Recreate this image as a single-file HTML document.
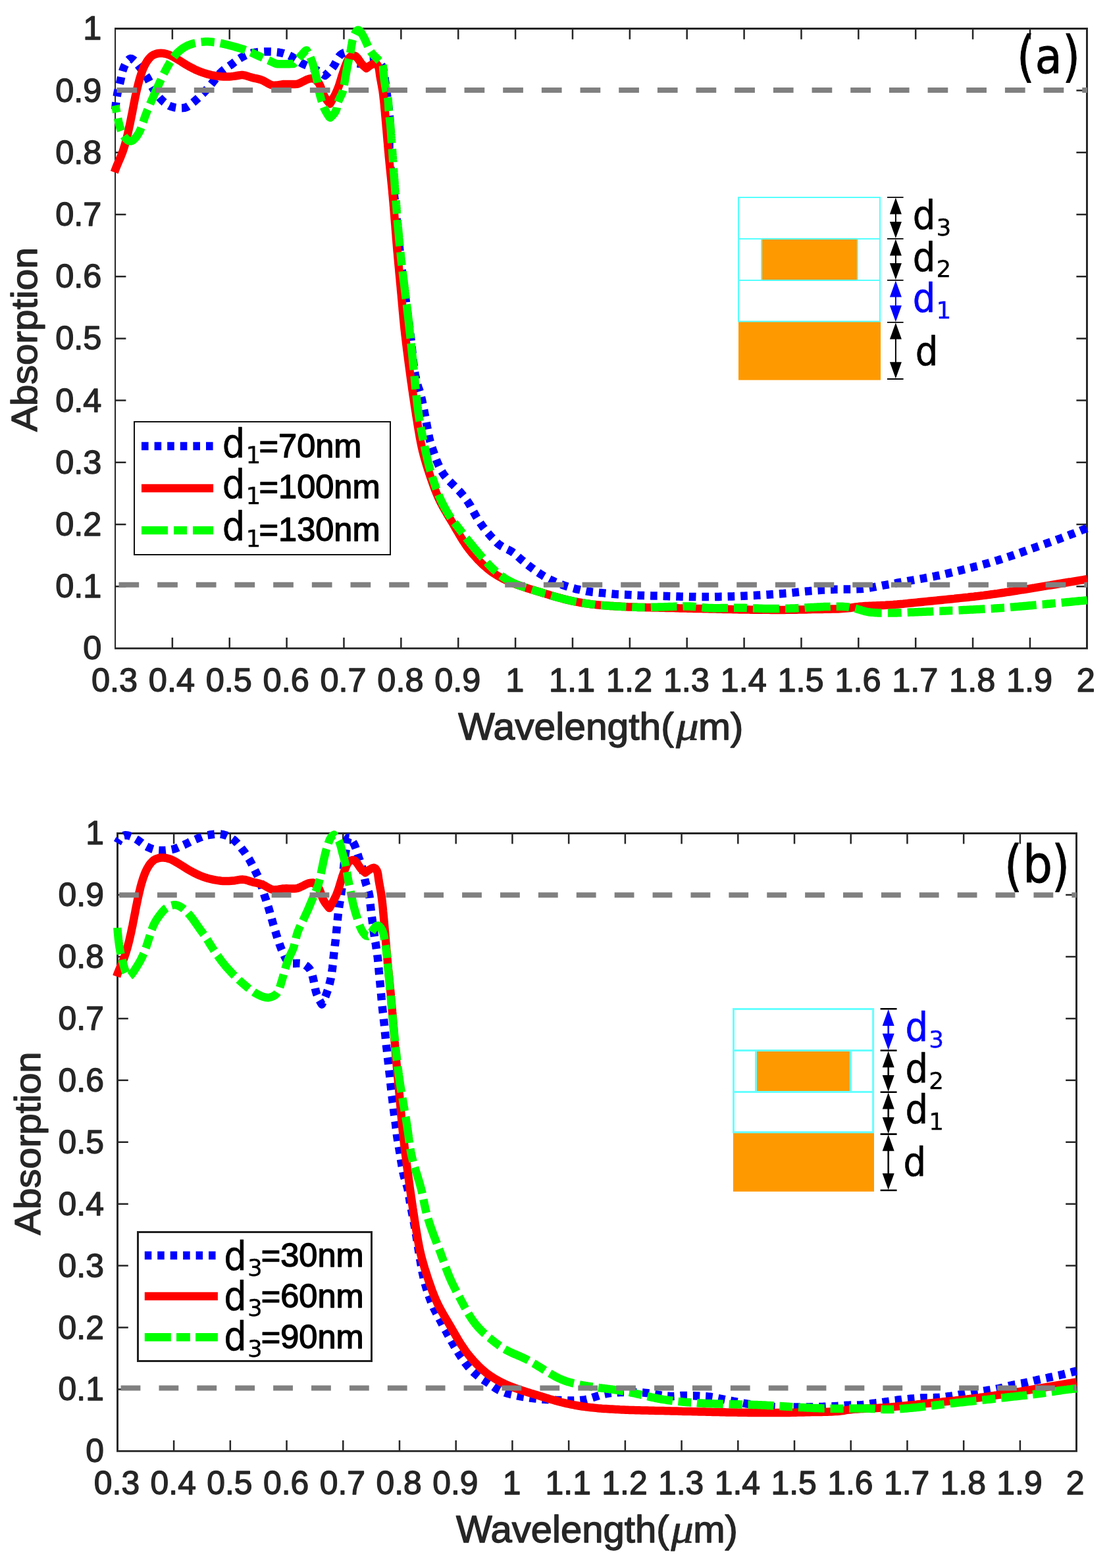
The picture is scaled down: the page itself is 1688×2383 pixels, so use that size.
<!DOCTYPE html>
<html lang="en"><head><meta charset="utf-8"><title>Absorption spectra</title>
<style>html,body{margin:0;padding:0;background:#fff;overflow:hidden}svg{display:block}</style></head><body>
<svg width="1688" height="2383" viewBox="0 0 1688 2383">
<rect width="1688" height="2383" fill="#fff"/>
<g id="plot-a">
<path d="M261.87 985.4v-16.4M261.87 43.4v16.4M348.74 985.4v-16.4M348.74 43.4v16.4M435.61 985.4v-16.4M435.61 43.4v16.4M522.48 985.4v-16.4M522.48 43.4v16.4M609.35 985.4v-16.4M609.35 43.4v16.4M696.22 985.4v-16.4M696.22 43.4v16.4M783.09 985.4v-16.4M783.09 43.4v16.4M869.96 985.4v-16.4M869.96 43.4v16.4M956.84 985.4v-16.4M956.84 43.4v16.4M1043.71 985.4v-16.4M1043.71 43.4v16.4M1130.58 985.4v-16.4M1130.58 43.4v16.4M1217.45 985.4v-16.4M1217.45 43.4v16.4M1304.32 985.4v-16.4M1304.32 43.4v16.4M1391.19 985.4v-16.4M1391.19 43.4v16.4M1478.06 985.4v-16.4M1478.06 43.4v16.4M1564.93 985.4v-16.4M1564.93 43.4v16.4M175 891.2h16.4M1651.8 891.2h-16.4M175 797h16.4M1651.8 797h-16.4M175 702.8h16.4M1651.8 702.8h-16.4M175 608.6h16.4M1651.8 608.6h-16.4M175 514.4h16.4M1651.8 514.4h-16.4M175 420.2h16.4M1651.8 420.2h-16.4M175 326h16.4M1651.8 326h-16.4M175 231.8h16.4M1651.8 231.8h-16.4M175 137.6h16.4M1651.8 137.6h-16.4" stroke="#262626" stroke-width="2.5" fill="none"/>
<path d="M174.04 42H1652.95V44.96H174.04ZM174.04 984H1652.95V986.8H174.04ZM174.04 42H176.07V986.8H174.04ZM1650 42H1652.95V986.8H1650Z" fill="#262626"/>
<g font-family='"Liberation Sans", Arial, Helvetica, sans-serif' font-size="50.5" fill="#262626" stroke="#262626" stroke-width="1.4" stroke-linejoin="round">
<g text-anchor="middle">
<text x="174.1" y="1051.4">0.3</text>
<text x="260.97" y="1051.4">0.4</text>
<text x="347.84" y="1051.4">0.5</text>
<text x="434.71" y="1051.4">0.6</text>
<text x="521.58" y="1051.4">0.7</text>
<text x="608.45" y="1051.4">0.8</text>
<text x="695.32" y="1051.4">0.9</text>
<text x="782.19" y="1051.4">1</text>
<text x="869.06" y="1051.4">1.1</text>
<text x="955.94" y="1051.4">1.2</text>
<text x="1042.81" y="1051.4">1.3</text>
<text x="1129.68" y="1051.4">1.4</text>
<text x="1216.55" y="1051.4">1.5</text>
<text x="1303.42" y="1051.4">1.6</text>
<text x="1390.29" y="1051.4">1.7</text>
<text x="1477.16" y="1051.4">1.8</text>
<text x="1564.03" y="1051.4">1.9</text>
<text x="1649.9" y="1051.4">2</text>
</g><g text-anchor="end">
<text x="154.4" y="1002.4">0</text>
<text x="154.4" y="908.2">0.1</text>
<text x="154.4" y="814">0.2</text>
<text x="154.4" y="719.8">0.3</text>
<text x="154.4" y="625.6">0.4</text>
<text x="154.4" y="531.4">0.5</text>
<text x="154.4" y="437.2">0.6</text>
<text x="154.4" y="343">0.7</text>
<text x="154.4" y="248.8">0.8</text>
<text x="154.4" y="154.6">0.9</text>
<text x="154.4" y="60.4">1</text>
</g></g>
<polyline points="175.2,166.0 175.5,163.0 175.8,160.0 176.1,157.0 176.5,154.0 176.9,151.0 177.4,148.0 177.9,145.1 178.4,142.1 179.0,139.1 179.7,136.2 180.4,133.2 181.2,130.3 181.9,127.4 182.6,124.5 183.3,121.6 183.9,118.7 184.4,115.8 185.1,112.8 185.7,109.9 186.6,106.9 187.6,104.0 188.8,100.9 190.4,97.6 192.2,94.5 194.2,91.9 196.2,90.0 198.3,89.1 200.4,89.5 202.7,90.9 205.0,93.0 207.3,95.6 209.5,98.4 211.6,101.1 213.6,103.6 215.5,106.0 217.3,108.4 219.0,110.9 220.7,113.3 222.3,115.7 223.9,118.2 225.3,120.8 226.7,123.5 228.1,126.2 229.4,128.9 230.8,131.6 232.3,134.2 233.9,136.8 235.6,139.4 237.3,141.9 239.1,144.4 240.9,146.8 242.9,149.0 245.0,151.2 247.1,153.3 249.4,155.4 251.8,157.3 254.3,159.1 257.0,160.7 259.7,161.8 262.5,162.6 265.5,163.3 268.5,163.8 271.6,164.1 274.7,164.2 277.7,164.1 280.6,163.8 283.3,162.9 285.9,161.5 288.5,159.8 290.9,157.8 293.4,155.7 295.7,153.7 298.0,151.7 300.3,149.7 302.5,147.7 304.7,145.6 306.8,143.5 309.0,141.4 311.1,139.2 313.1,137.0 315.1,134.8 317.1,132.5 319.1,130.2 321.0,127.9 322.9,125.6 324.8,123.2 326.7,120.8 328.5,118.4 330.4,116.0 332.3,113.6 334.3,111.4 336.4,109.3 338.6,107.3 341.0,105.5 343.4,103.7 345.9,101.9 348.4,100.2 350.9,98.5 353.3,96.7 355.8,94.8 358.2,93.0 360.6,91.2 363.1,89.5 365.6,87.9 368.2,86.5 370.9,85.1 373.7,83.8 376.5,82.6 379.4,81.6 382.3,80.7 385.2,80.1 388.2,79.6 391.1,79.2 394.1,78.9 397.2,78.6 400.2,78.5 403.2,78.4 406.2,78.4 409.3,78.5 412.3,78.6 415.3,78.8 418.3,79.1 421.3,79.4 424.3,79.8 427.2,80.3 430.2,81.0 433.1,81.9 436.0,83.0 438.8,84.1 441.5,85.4 444.1,86.7 446.7,88.3 449.2,90.0 451.7,91.7 454.2,93.5 456.8,95.1 459.4,96.6 462.1,97.9 464.8,99.1 467.6,100.3 470.4,101.5 473.2,102.6 475.9,103.9 478.6,105.3 481.2,106.7 483.8,108.2 486.4,109.8 489.0,111.4 491.5,113.1 494.0,114.8 496.2,112.7 498.4,110.6 500.5,108.4 502.5,106.2 504.5,103.9 506.3,101.5 507.9,99.1 509.4,96.4 510.8,93.7 512.2,90.9 513.6,88.2 515.3,85.7 517.2,83.5 519.7,81.7 522.6,80.2 525.6,79.3 528.1,79.3 530.2,80.6 532.1,83.0 533.7,86.0 535.3,89.2 537.1,92.2 539.0,94.7 541.3,96.1 544.1,96.6 547.2,96.8 550.3,96.6 553.2,95.9 556.0,94.6 558.8,93.4 561.7,92.7 564.7,92.6 567.7,92.8 570.7,93.2 573.6,94.1 576.3,95.6 578.5,97.7 580.1,99.9 581.3,102.4 582.3,105.2 583.0,108.1 583.6,111.2 584.1,114.4 584.5,117.6 584.8,120.7 585.2,123.8 585.6,126.8 586.0,129.9 586.4,132.9 586.8,135.8 587.2,138.8 587.6,141.8 588.0,144.7 588.4,147.7 588.8,150.6 589.2,153.6 589.6,156.5 589.9,159.5 590.3,162.5 590.7,165.4 591.0,168.4 591.4,171.4 591.7,174.4 592.0,177.4 592.2,180.4 592.4,183.4 592.5,186.4 592.6,189.4 592.6,192.4 592.5,195.4 592.4,198.4 592.3,201.4 592.1,204.4 592.0,207.4 591.8,210.5 591.7,213.5 591.5,216.5 591.4,219.4 591.4,222.4 591.4,225.4 591.4,228.4 591.5,231.4 591.7,234.4 591.8,237.4 592.0,240.4 592.3,243.4 592.5,246.4 592.8,249.4 593.1,252.4 593.5,255.3 593.8,258.3 594.2,261.3 594.6,264.3 595.0,267.3 595.4,270.3 595.8,273.3 596.2,276.3 596.6,279.2 597.0,282.2 597.4,285.2 597.8,288.2 598.2,291.2 598.6,294.2 599.0,297.2 599.3,300.2 599.7,303.1 600.0,306.1 600.3,309.1 600.7,312.1 601.0,315.1 601.3,318.1 601.6,321.1 601.9,324.1 602.2,327.1 602.5,330.0 602.8,333.0 603.1,336.0 603.3,339.0 603.6,342.0 603.9,345.0 604.2,348.0 604.5,351.0 604.7,354.0 605.0,357.0 605.3,359.9 605.6,362.9 605.9,365.9 606.2,368.9 606.5,371.9 606.8,374.9 607.1,377.9 607.4,380.9 607.7,383.9 608.0,386.8 608.3,389.8 608.6,392.8 609.0,395.8 609.3,398.8 609.6,401.8 610.0,404.8 610.3,407.7 610.7,410.7 611.0,413.7 611.4,416.7 611.7,419.7 612.1,422.7 612.5,425.6 612.9,428.6 613.2,431.6 613.6,434.6 614.0,437.6 614.4,440.5 614.8,443.5 615.2,446.5 615.6,449.5 616.0,452.5 616.4,455.4 616.8,458.4 617.2,461.4 617.6,464.3 618.0,467.3 618.4,470.3 618.8,473.3 619.2,476.2 619.7,479.2 620.1,482.2 620.5,485.2 620.9,488.1 621.3,491.1 621.7,494.1 622.1,497.1 622.5,500.1 622.8,503.0 623.2,506.0 623.6,509.0 624.0,512.0 624.3,515.0 624.6,518.0 625.0,521.0 625.3,524.0 625.6,527.0 625.9,530.0 626.2,533.0 626.5,536.1 626.8,539.1 627.1,542.1 627.4,545.1 627.7,548.1 628.1,551.1 628.4,554.1 628.8,557.1 629.3,560.1 629.7,563.0 630.2,566.0 630.7,568.9 631.3,571.9 631.9,574.8 632.5,577.7 633.2,580.6 634.0,583.5 634.8,586.4 635.7,589.2 636.8,592.0 637.7,594.9 638.6,597.7 639.3,600.6 640.0,603.6 640.7,606.5 641.4,609.4 642.0,612.4 642.6,615.3 643.2,618.3 643.8,621.2 644.4,624.2 644.9,627.1 645.5,630.1 646.1,633.0 646.6,636.0 647.2,638.9 647.8,641.9 648.3,644.8 648.8,647.8 649.4,650.7 649.9,653.7 650.5,656.6 651.0,659.6 651.6,662.5 652.2,665.5 652.9,668.4 653.7,671.3 654.5,674.2 655.4,677.1 656.3,679.9 657.3,682.8 658.3,685.6 659.3,688.4 660.3,691.3 661.3,694.1 662.3,696.9 663.4,699.8 664.5,702.5 665.7,705.3 666.9,708.0 668.2,710.8 669.6,713.5 671.0,716.1 672.6,718.7 674.2,721.2 676.0,723.6 677.9,725.9 679.9,728.1 681.9,730.3 684.1,732.5 686.2,734.6 688.3,736.7 690.5,738.9 692.6,741.0 694.7,743.1 696.8,745.3 698.9,747.5 700.9,749.7 702.8,752.0 704.7,754.3 706.6,756.7 708.4,759.1 710.1,761.5 711.8,764.0 713.4,766.6 715.0,769.1 716.4,771.8 717.8,774.4 719.2,777.1 720.6,779.7 722.1,782.4 723.5,785.0 725.1,787.6 726.7,790.1 728.3,792.7 730.0,795.2 731.7,797.6 733.4,800.1 735.3,802.5 737.1,804.8 739.0,807.2 740.9,809.5 742.9,811.8 744.8,814.0 746.8,816.3 748.9,818.5 750.9,820.7 753.1,822.9 755.2,825.0 757.5,827.0 759.9,828.8 762.3,830.4 764.9,831.9 767.6,833.3 770.3,834.6 773.1,835.9 775.7,837.3 778.3,838.9 780.7,840.6 783.0,842.5 785.3,844.4 787.6,846.5 789.8,848.5 792.1,850.5 794.4,852.4 796.7,854.3 799.0,856.2 801.4,858.1 803.7,860.0 806.1,861.8 808.5,863.6 810.9,865.4 813.4,867.2 815.8,868.9 818.3,870.6 820.8,872.2 823.4,873.8 825.9,875.4 828.5,876.9 831.2,878.3 833.8,879.7 836.5,881.1 839.2,882.4 841.9,883.7 844.7,884.9 847.4,886.1 850.2,887.2 853.0,888.3 855.8,889.4 858.7,890.4 861.5,891.3 864.4,892.2 867.3,893.0 870.2,893.8 873.1,894.6 876.0,895.3 878.9,895.9 881.9,896.6 884.8,897.2 887.8,897.8 890.7,898.4 893.7,898.9 896.7,899.3 899.6,899.7 902.6,900.0 905.6,900.3 908.6,900.6 911.6,900.9 914.6,901.1 917.6,901.4 920.6,901.7 923.6,902.0 926.6,902.3 929.5,902.6 932.5,902.8 935.5,903.1 938.5,903.3 941.5,903.4 944.5,903.6 947.5,903.7 950.5,903.8 953.5,903.9 956.5,904.1 959.5,904.2 962.5,904.4 965.5,904.6 968.5,904.7 971.5,904.9 974.5,905.0 977.5,905.1 980.5,905.2 983.5,905.3 986.5,905.3 989.6,905.4 992.6,905.5 995.6,905.5 998.6,905.6 1001.6,905.6 1004.6,905.7 1007.6,905.8 1010.6,905.9 1013.6,906.0 1016.6,906.2 1019.6,906.3 1022.6,906.4 1025.6,906.4 1028.6,906.5 1031.6,906.6 1034.6,906.7 1037.6,906.7 1040.6,906.8 1043.6,906.9 1046.6,906.9 1049.6,907.0 1052.6,907.0 1055.6,907.0 1058.6,907.1 1061.6,907.1 1064.6,907.1 1067.6,907.1 1070.6,907.1 1073.6,907.1 1076.7,907.1 1079.7,907.1 1082.7,907.0 1085.7,907.0 1088.7,906.9 1091.7,906.9 1094.7,906.8 1097.7,906.8 1100.7,906.7 1103.7,906.7 1106.7,906.6 1109.7,906.5 1112.7,906.4 1115.7,906.3 1118.7,906.2 1121.7,906.1 1124.7,906.0 1127.7,905.8 1130.7,905.7 1133.7,905.5 1136.7,905.4 1139.7,905.2 1142.7,905.0 1145.7,904.9 1148.7,904.7 1151.7,904.5 1154.7,904.4 1157.7,904.2 1160.7,904.0 1163.7,903.9 1166.7,903.7 1169.7,903.5 1172.7,903.3 1175.7,903.1 1178.7,902.9 1181.7,902.7 1184.7,902.5 1187.7,902.2 1190.7,902.0 1193.7,901.7 1196.7,901.5 1199.7,901.2 1202.6,900.9 1205.6,900.6 1208.6,900.3 1211.6,900.0 1214.6,899.7 1217.6,899.4 1220.6,899.1 1223.6,898.8 1226.6,898.5 1229.6,898.3 1232.5,898.0 1235.5,897.8 1238.5,897.5 1241.5,897.3 1244.5,897.1 1247.5,896.8 1250.5,896.6 1253.5,896.5 1256.5,896.3 1259.5,896.1 1262.5,896.0 1265.5,895.9 1268.5,895.8 1271.5,895.7 1274.5,895.7 1277.5,895.6 1280.6,895.6 1283.6,895.6 1286.6,895.6 1289.6,895.5 1292.6,895.5 1295.6,895.4 1298.6,895.4 1301.6,895.3 1304.6,895.1 1307.6,895.0 1310.6,894.8 1313.5,894.5 1316.5,894.1 1319.5,893.7 1322.5,893.2 1325.4,892.7 1328.4,892.2 1331.3,891.6 1334.3,891.1 1337.3,890.5 1340.2,889.9 1343.2,889.4 1346.1,888.9 1349.1,888.3 1352.1,887.8 1355.0,887.3 1358.0,886.8 1360.9,886.3 1363.9,885.7 1366.9,885.2 1369.8,884.7 1372.8,884.2 1375.7,883.7 1378.7,883.2 1381.7,882.6 1384.6,882.1 1387.6,881.6 1390.5,881.1 1393.5,880.6 1396.5,880.1 1399.4,879.6 1402.4,879.1 1405.3,878.5 1408.3,878.0 1411.3,877.5 1414.2,876.9 1417.2,876.4 1420.1,875.8 1423.0,875.2 1426.0,874.6 1428.9,874.0 1431.9,873.3 1434.8,872.7 1437.7,872.0 1440.6,871.3 1443.6,870.6 1446.5,869.9 1449.4,869.2 1452.3,868.5 1455.3,867.8 1458.2,867.1 1461.1,866.4 1464.0,865.6 1466.9,864.9 1469.8,864.2 1472.7,863.4 1475.7,862.7 1478.6,861.9 1481.5,861.2 1484.4,860.4 1487.3,859.7 1490.2,858.9 1493.1,858.1 1496.0,857.3 1498.9,856.5 1501.8,855.7 1504.6,854.8 1507.5,854.0 1510.4,853.1 1513.3,852.2 1516.2,851.4 1519.0,850.5 1521.9,849.6 1524.8,848.6 1527.6,847.7 1530.5,846.8 1533.3,845.9 1536.2,844.9 1539.0,844.0 1541.9,843.0 1544.7,842.0 1547.5,841.0 1550.4,840.0 1553.2,839.0 1556.0,838.0 1558.9,837.0 1561.7,836.0 1564.5,834.9 1567.3,833.9 1570.2,832.9 1573.0,831.9 1575.8,830.9 1578.7,829.9 1581.5,828.9 1584.3,827.9 1587.2,826.9 1590.0,825.9 1592.8,824.9 1595.7,823.9 1598.5,822.9 1601.3,821.9 1604.1,820.9 1607.0,819.8 1609.8,818.8 1612.6,817.8 1615.4,816.7 1618.2,815.6 1621.0,814.6 1623.8,813.5 1626.6,812.4 1629.4,811.3 1632.2,810.3 1635.0,809.2 1637.8,808.1 1640.6,807.0 1643.4,805.8 1646.2,804.7 1649.0,803.6 1651.8,802.5" fill="none" stroke="#0000ff" stroke-width="12.5" stroke-linejoin="round" stroke-dasharray="10.6 9" stroke-dashoffset="0.00"/>
<polyline points="173.8,261.9 174.8,259.1 175.9,256.2 177.0,253.4 178.1,250.6 179.3,247.9 180.5,245.1 181.7,242.3 182.9,239.6 184.0,236.8 185.1,234.0 186.2,231.2 187.2,228.3 188.1,225.5 189.0,222.6 189.9,219.7 190.7,216.8 191.5,213.9 192.2,211.0 193.0,208.1 193.7,205.1 194.4,202.2 195.0,199.2 195.7,196.3 196.3,193.3 197.0,190.4 197.6,187.4 198.2,184.5 198.8,181.5 199.4,178.6 200.0,175.6 200.6,172.7 201.2,169.7 201.7,166.7 202.3,163.8 202.9,160.8 203.4,157.9 204.0,154.9 204.6,152.0 205.2,149.0 205.8,146.1 206.5,143.1 207.1,140.2 207.8,137.2 208.5,134.3 209.2,131.4 209.9,128.4 210.7,125.5 211.4,122.6 212.3,119.7 213.1,116.8 214.0,113.9 215.0,111.1 216.0,108.2 217.1,105.4 218.3,102.6 219.6,99.8 221.0,97.1 222.5,94.6 224.1,92.1 226.0,89.6 228.0,87.3 230.3,85.2 232.7,83.6 235.4,82.5 238.4,81.5 241.4,81.0 244.4,80.8 247.5,81.0 250.5,81.5 253.4,82.2 256.3,83.1 259.0,84.2 261.7,85.6 264.4,87.1 267.0,88.6 269.6,90.1 272.2,91.7 274.8,93.3 277.3,94.9 279.8,96.5 282.4,98.1 285.0,99.6 287.6,101.1 290.3,102.5 293.0,103.9 295.7,105.3 298.4,106.6 301.2,107.8 304.0,108.9 306.8,109.9 309.6,110.9 312.5,111.8 315.4,112.7 318.3,113.4 321.3,114.1 324.2,114.6 327.2,115.2 330.2,115.6 333.2,116.0 336.2,116.3 339.2,116.5 342.2,116.5 345.2,116.5 348.2,116.4 351.2,116.2 354.3,115.9 357.3,115.5 360.3,115.0 363.3,114.5 366.2,114.1 369.2,114.1 372.1,114.6 375.0,115.4 377.9,116.4 380.8,117.3 383.8,118.1 386.7,118.8 389.7,119.4 392.6,120.1 395.5,120.8 398.3,121.8 401.1,123.2 403.8,124.7 406.5,126.3 409.2,127.8 412.0,129.0 414.7,129.7 417.6,129.8 420.5,129.6 423.5,129.1 426.6,128.6 429.6,128.1 432.7,127.9 435.7,127.9 438.8,127.9 441.8,128.0 444.8,128.1 447.8,128.0 450.7,127.8 453.6,127.1 456.4,125.9 459.2,124.5 461.9,123.2 464.6,121.8 467.4,120.6 470.2,119.6 473.2,119.2 476.2,119.0 478.8,120.9 481.2,123.0 483.3,125.2 485.1,127.6 486.5,130.3 487.6,133.2 488.7,136.2 489.7,139.3 490.8,142.3 492.1,145.1 493.6,147.8 495.4,150.4 497.2,152.9 499.2,155.3 501.3,157.7 502.9,155.1 504.4,152.5 505.9,149.9 507.4,147.2 508.8,144.6 510.1,141.9 511.4,139.1 512.6,136.4 513.7,133.6 514.8,130.8 515.7,128.0 516.6,125.1 517.5,122.2 518.4,119.3 519.2,116.4 520.2,113.5 521.1,110.7 522.1,107.8 523.0,105.0 524.0,102.1 525.1,99.3 526.2,96.5 527.4,93.7 528.7,90.9 530.3,88.2 532.4,86.2 535.2,84.8 538.1,84.4 540.7,85.7 543.0,88.0 544.9,90.4 546.6,92.9 548.2,95.4 550.1,97.8 552.1,99.9 554.4,101.9 556.8,103.8 559.1,101.9 561.5,100.1 564.1,98.5 566.9,97.1 569.8,96.3 572.4,97.4 574.2,99.9 575.3,102.6 576.1,105.6 576.5,108.6 576.9,111.7 577.3,114.7 577.8,117.6 578.3,120.6 578.9,123.5 579.4,126.5 580.0,129.4 580.5,132.4 581.0,135.4 581.5,138.3 581.9,141.3 582.3,144.3 582.6,147.3 582.9,150.2 583.3,153.2 583.6,156.2 583.9,159.2 584.1,162.2 584.4,165.2 584.7,168.2 585.0,171.2 585.2,174.2 585.5,177.2 585.8,180.2 586.0,183.2 586.3,186.2 586.6,189.1 586.8,192.1 587.1,195.1 587.4,198.1 587.6,201.1 587.9,204.1 588.1,207.1 588.4,210.1 588.6,213.1 588.9,216.1 589.2,219.1 589.4,222.1 589.7,225.1 589.9,228.1 590.2,231.0 590.5,234.0 590.7,237.0 591.0,240.0 591.3,243.0 591.6,246.0 591.9,249.0 592.2,252.0 592.5,255.0 592.8,258.0 593.1,260.9 593.4,263.9 593.7,266.9 594.0,269.9 594.3,272.9 594.6,275.9 594.9,278.9 595.2,281.9 595.5,284.9 595.8,287.8 596.1,290.8 596.3,293.8 596.6,296.8 596.9,299.8 597.1,302.8 597.4,305.8 597.7,308.8 597.9,311.8 598.2,314.8 598.4,317.8 598.7,320.8 598.9,323.8 599.2,326.8 599.4,329.7 599.6,332.7 599.9,335.7 600.1,338.7 600.4,341.7 600.6,344.7 600.8,347.7 601.1,350.7 601.3,353.7 601.6,356.7 601.8,359.7 602.0,362.7 602.3,365.7 602.5,368.7 602.8,371.7 603.0,374.7 603.3,377.7 603.5,380.6 603.8,383.6 604.1,386.6 604.3,389.6 604.6,392.6 604.9,395.6 605.1,398.6 605.4,401.6 605.7,404.6 606.0,407.6 606.3,410.6 606.5,413.6 606.8,416.5 607.1,419.5 607.4,422.5 607.7,425.5 607.9,428.5 608.2,431.5 608.5,434.5 608.8,437.5 609.0,440.5 609.3,443.5 609.6,446.5 609.9,449.5 610.1,452.4 610.4,455.4 610.7,458.4 610.9,461.4 611.2,464.4 611.5,467.4 611.7,470.4 612.0,473.4 612.3,476.4 612.6,479.4 612.8,482.4 613.1,485.4 613.4,488.3 613.7,491.3 614.0,494.3 614.3,497.3 614.6,500.3 615.0,503.3 615.3,506.3 615.6,509.3 616.0,512.2 616.3,515.2 616.7,518.2 617.0,521.2 617.4,524.2 617.8,527.1 618.1,530.1 618.5,533.1 618.9,536.1 619.3,539.1 619.7,542.1 620.0,545.0 620.4,548.0 620.8,551.0 621.2,554.0 621.6,556.9 622.0,559.9 622.4,562.9 622.8,565.9 623.2,568.9 623.6,571.8 624.0,574.8 624.4,577.8 624.8,580.8 625.3,583.7 625.7,586.7 626.1,589.7 626.5,592.7 627.0,595.6 627.4,598.6 627.8,601.6 628.3,604.5 628.7,607.5 629.2,610.5 629.6,613.5 630.0,616.4 630.5,619.4 630.9,622.4 631.4,625.3 631.9,628.3 632.3,631.3 632.8,634.2 633.3,637.2 633.8,640.2 634.2,643.1 634.7,646.1 635.2,649.1 635.7,652.1 636.2,655.0 636.7,658.0 637.2,660.9 637.7,663.9 638.3,666.9 638.8,669.8 639.4,672.8 640.0,675.7 640.6,678.6 641.3,681.6 641.9,684.5 642.7,687.4 643.4,690.3 644.2,693.2 645.0,696.1 645.8,699.0 646.7,701.9 647.5,704.7 648.4,707.6 649.3,710.5 650.2,713.4 651.2,716.2 652.1,719.1 653.1,721.9 654.0,724.8 655.0,727.6 656.0,730.5 657.0,733.3 658.0,736.2 659.0,739.0 660.1,741.8 661.1,744.6 662.3,747.4 663.4,750.2 664.6,752.9 665.8,755.7 667.0,758.4 668.3,761.1 669.6,763.8 671.0,766.4 672.4,769.1 673.9,771.7 675.4,774.3 676.9,776.9 678.4,779.5 679.9,782.1 681.5,784.7 683.0,787.3 684.6,789.9 686.1,792.4 687.7,795.0 689.2,797.6 690.7,800.2 692.2,802.8 693.7,805.4 695.3,808.0 696.8,810.6 698.3,813.2 699.9,815.8 701.4,818.4 703.0,820.9 704.7,823.4 706.3,825.9 708.0,828.4 709.7,830.9 711.5,833.3 713.3,835.7 715.1,838.0 717.0,840.4 719.0,842.7 721.0,844.9 723.0,847.2 725.0,849.4 727.1,851.6 729.2,853.7 731.3,855.8 733.5,857.9 735.7,859.9 738.0,861.9 740.3,863.9 742.6,865.8 745.0,867.6 747.4,869.3 749.9,871.0 752.4,872.7 755.0,874.3 757.6,875.8 760.2,877.3 762.8,878.7 765.5,880.1 768.2,881.4 770.9,882.7 773.7,883.9 776.4,885.1 779.2,886.2 782.0,887.3 784.8,888.4 787.6,889.4 790.5,890.4 793.3,891.4 796.2,892.3 799.0,893.3 801.9,894.2 804.8,895.1 807.6,896.0 810.5,896.8 813.4,897.7 816.3,898.6 819.1,899.4 822.0,900.3 824.9,901.2 827.8,902.1 830.6,902.9 833.5,903.8 836.4,904.7 839.3,905.6 842.1,906.4 845.0,907.2 847.9,908.0 850.8,908.8 853.7,909.6 856.6,910.4 859.5,911.1 862.5,911.8 865.4,912.5 868.3,913.2 871.3,913.8 874.2,914.4 877.2,914.9 880.1,915.5 883.1,916.0 886.0,916.5 889.0,917.0 892.0,917.4 895.0,917.8 897.9,918.2 900.9,918.6 903.9,918.9 906.9,919.2 909.9,919.5 912.9,919.8 915.9,920.1 918.9,920.3 921.9,920.5 924.8,920.7 927.8,920.9 930.8,921.1 933.8,921.3 936.8,921.5 939.8,921.6 942.8,921.8 945.8,922.0 948.8,922.1 951.8,922.2 954.8,922.4 957.8,922.5 960.8,922.6 963.8,922.7 966.9,922.8 969.9,922.9 972.9,923.0 975.9,923.1 978.9,923.1 981.9,923.2 984.9,923.3 987.9,923.3 990.9,923.4 993.9,923.5 996.9,923.5 999.9,923.6 1002.9,923.7 1005.9,923.7 1008.9,923.8 1011.9,923.9 1014.9,923.9 1017.9,924.0 1020.9,924.1 1023.9,924.1 1026.9,924.2 1029.9,924.3 1032.9,924.4 1035.9,924.4 1038.9,924.5 1041.9,924.6 1044.9,924.7 1047.9,924.7 1050.9,924.8 1053.9,924.9 1056.9,924.9 1060.0,925.0 1063.0,925.1 1066.0,925.1 1069.0,925.2 1072.0,925.3 1075.0,925.3 1078.0,925.4 1081.0,925.5 1084.0,925.5 1087.0,925.6 1090.0,925.7 1093.0,925.7 1096.0,925.8 1099.0,925.9 1102.0,926.0 1105.0,926.0 1108.0,926.1 1111.0,926.1 1114.0,926.2 1117.0,926.3 1120.0,926.3 1123.0,926.4 1126.0,926.4 1129.0,926.5 1132.0,926.5 1135.0,926.6 1138.0,926.6 1141.0,926.7 1144.0,926.7 1147.1,926.7 1150.1,926.7 1153.1,926.8 1156.1,926.8 1159.1,926.8 1162.1,926.8 1165.1,926.8 1168.1,926.8 1171.1,926.9 1174.1,926.9 1177.1,926.9 1180.1,926.9 1183.1,926.9 1186.1,926.9 1189.1,926.9 1192.1,926.9 1195.1,926.8 1198.1,926.8 1201.1,926.8 1204.1,926.8 1207.1,926.7 1210.1,926.7 1213.1,926.6 1216.1,926.6 1219.1,926.5 1222.1,926.4 1225.1,926.4 1228.1,926.3 1231.2,926.2 1234.2,926.1 1237.2,926.1 1240.2,926.0 1243.2,925.9 1246.2,925.9 1249.2,925.9 1252.2,925.8 1255.2,925.8 1258.2,925.7 1261.2,925.7 1264.2,925.6 1267.2,925.6 1270.3,925.5 1273.3,925.4 1276.3,925.2 1279.3,925.0 1282.2,924.8 1285.2,924.6 1288.2,924.3 1291.2,924.0 1294.2,923.5 1297.1,923.0 1300.1,922.5 1303.1,922.1 1306.0,921.8 1309.0,921.6 1312.0,921.3 1315.0,921.1 1318.0,920.9 1321.0,920.8 1324.0,920.7 1327.0,920.5 1330.0,920.4 1333.0,920.3 1336.0,920.2 1339.0,920.0 1342.1,919.9 1345.1,919.8 1348.1,919.6 1351.1,919.4 1354.1,919.2 1357.1,919.0 1360.0,918.7 1363.0,918.5 1366.0,918.2 1369.0,917.9 1372.0,917.7 1375.0,917.4 1378.0,917.1 1381.0,916.8 1384.0,916.5 1387.0,916.2 1390.0,915.9 1392.9,915.6 1395.9,915.3 1398.9,915.0 1401.9,914.7 1404.9,914.4 1407.9,914.1 1410.9,913.8 1413.9,913.5 1416.9,913.2 1419.8,912.9 1422.8,912.6 1425.8,912.3 1428.8,912.0 1431.8,911.7 1434.8,911.4 1437.8,911.1 1440.8,910.8 1443.8,910.5 1446.7,910.2 1449.7,909.9 1452.7,909.5 1455.7,909.2 1458.7,908.9 1461.7,908.6 1464.7,908.3 1467.7,908.0 1470.6,907.7 1473.6,907.3 1476.6,907.0 1479.6,906.7 1482.6,906.3 1485.6,906.0 1488.6,905.6 1491.5,905.2 1494.5,904.9 1497.5,904.5 1500.5,904.1 1503.5,903.7 1506.4,903.3 1509.4,902.9 1512.4,902.5 1515.4,902.1 1518.3,901.6 1521.3,901.2 1524.3,900.8 1527.2,900.3 1530.2,899.9 1533.2,899.5 1536.2,899.0 1539.1,898.6 1542.1,898.1 1545.1,897.7 1548.0,897.2 1551.0,896.7 1554.0,896.2 1556.9,895.8 1559.9,895.3 1562.9,894.8 1565.8,894.3 1568.8,893.8 1571.8,893.4 1574.7,892.9 1577.7,892.4 1580.7,891.9 1583.6,891.4 1586.6,890.9 1589.6,890.4 1592.5,889.9 1595.5,889.5 1598.4,889.0 1601.4,888.5 1604.4,888.0 1607.3,887.5 1610.3,887.0 1613.3,886.5 1616.2,886.0 1619.2,885.5 1622.2,885.0 1625.1,884.5 1628.1,884.1 1631.0,883.6 1634.0,883.1 1637.0,882.6 1639.9,882.1 1642.9,881.6 1645.9,881.2 1648.8,880.7 1651.8,880.2" fill="none" stroke="#ff0000" stroke-width="12.5" stroke-linejoin="round"/>
<polyline points="175.3,160.3 175.7,162.3 176.0,164.2 176.4,166.2 176.8,168.2 177.1,170.1 177.5,172.1 177.9,174.1 178.3,176.0 178.7,178.0 179.1,179.9 179.5,181.9 179.9,183.9 180.3,185.8 180.8,187.7 181.3,189.7 181.8,191.6 182.4,193.5 183.0,195.5 183.6,197.3 184.3,199.2 185.1,201.1 185.9,202.9" fill="none" stroke="#00ff00" stroke-width="12.5" stroke-linejoin="round" stroke-dasharray="39.17 8.88 19.83 8.88" stroke-dashoffset="28.31"/>
<polyline points="185.9,202.9 186.9,204.6 187.9,206.4 189.0,208.0 190.3,209.6 191.6,211.0 193.1,212.4 194.7,213.6 196.5,214.4 198.5,214.5 200.3,214.0 202.1,213.0 203.6,211.7 205.0,210.3 206.3,208.8 207.6,207.2 208.7,205.6 209.8,203.9 210.8,202.2 211.8,200.4 212.7,198.6 213.5,196.8 214.3,194.9 215.0,193.1 215.7,191.2 216.3,189.3 216.9,187.4 217.6,185.5 218.2,183.6 218.8,181.7 219.4,179.8 220.1,177.9 220.8,176.0 221.5,174.2 222.2,172.3 222.9,170.4 223.6,168.6 224.4,166.7 225.2,164.9 225.9,163.0 226.2,162.3" fill="none" stroke="#00ff00" stroke-width="12.5" stroke-linejoin="round" stroke-dasharray="40.18 9.11 20.35 9.11" stroke-dashoffset="74.20"/>
<polyline points="226.2,162.3 227.0,160.5 227.8,158.7 228.6,156.8 229.4,155.0 230.2,153.1 231.0,151.3 231.8,149.5 232.6,147.7 233.4,145.8 234.2,144.0 235.1,142.2 235.9,140.4 236.7,138.5 237.5,136.7 238.3,134.9 239.2,133.1 240.0,131.2 240.8,129.4 241.6,127.6 242.4,125.8 243.3,123.9 244.1,122.1 244.9,120.3 245.8,118.5 246.6,116.7 247.5,114.9 248.3,113.1 249.2,111.3 250.1,109.5 251.1,107.7 252.0,106.0 252.9,104.2 253.9,102.4 254.9,100.7 255.9,99.0 256.9,97.2 257.9,95.5 258.9,93.8 260.0,92.1 261.1,90.5 261.3,90.3" fill="none" stroke="#00ff00" stroke-width="12.5" stroke-linejoin="round" stroke-dasharray="40.95 9.28 20.73 9.28" stroke-dashoffset="75.61"/>
<polyline points="261.3,90.3 262.4,88.6 263.6,87.0 264.8,85.4 266.1,83.9 267.4,82.4 268.8,80.9 270.2,79.5 271.7,78.2 273.2,76.9 274.8,75.6 276.3,74.4 278.0,73.2 279.6,72.1 281.4,71.1 283.1,70.1 284.9,69.3 286.7,68.5 288.6,67.8 290.5,67.1 292.4,66.6 294.4,66.0 296.3,65.5 298.2,65.1 300.2,64.7 302.2,64.3 304.1,64.0 306.1,63.8 308.1,63.6 310.1,63.4 312.1,63.3 314.1,63.3 316.1,63.3 318.1,63.4 320.1,63.6 322.1,63.7 324.1,64.0 326.1,64.2 328.0,64.5 330.0,64.8 330.3,64.9" fill="none" stroke="#00ff00" stroke-width="12.5" stroke-linejoin="round" stroke-dasharray="39.93 9.05 20.22 9.05" stroke-dashoffset="73.72"/>
<polyline points="330.3,64.9 332.2,65.2 334.2,65.6 336.2,66.0 338.1,66.4 340.1,66.8 342.0,67.3 344.0,67.7 345.9,68.2 347.8,68.7 349.8,69.3 351.7,69.8 353.6,70.3 355.6,70.8 357.5,71.4 359.4,71.9 361.3,72.4 363.3,73.0 365.2,73.5 367.1,74.1 369.0,74.7 370.9,75.4 372.8,76.1 374.6,76.8 376.5,77.5 378.3,78.3 380.2,79.1 382.0,79.9 383.8,80.8 385.6,81.6 387.4,82.5 389.2,83.3 391.1,84.2 392.9,85.0 394.7,85.8 396.5,86.6 398.3,87.4 400.2,88.3 402.0,89.1 403.4,89.7" fill="none" stroke="#00ff00" stroke-width="12.5" stroke-linejoin="round" stroke-dasharray="39.55 8.97 20.02 8.97" stroke-dashoffset="73.02"/>
<polyline points="403.4,89.7 405.2,90.5 407.0,91.3 408.8,92.1 410.7,93.0 412.5,93.8 414.3,94.6 416.1,95.5 417.9,96.3 419.8,97.1 421.7,97.2 423.7,97.3 425.7,97.3 427.7,97.3 429.7,97.3 431.7,97.3 433.7,97.3 435.7,97.3 437.7,97.2 439.7,97.2 441.7,97.1 443.7,97.1 445.7,97.0 447.3,96.1 448.6,94.5 449.9,93.0 451.2,91.5 452.5,90.0 453.8,88.5 455.1,87.0 456.5,85.5 457.8,84.0 459.2,82.5 460.5,81.1 461.9,79.6 463.3,78.1 464.6,76.7 465.9,76.5 466.9,78.2 467.9,79.9 468.8,81.7 469.5,83.0" fill="none" stroke="#00ff00" stroke-width="12.5" stroke-linejoin="round" stroke-dasharray="41.59 9.43 21.06 9.43" stroke-dashoffset="76.79"/>
<polyline points="469.5,83.0 470.4,84.8 471.3,86.6 472.1,88.5 472.8,90.3 473.5,92.2 474.2,94.1 474.9,95.9 475.5,97.8 476.1,99.8 476.7,101.7 477.2,103.6 477.7,105.5 478.2,107.5 478.7,109.4 479.2,111.3 479.7,113.3 480.1,115.2 480.5,117.2 481.0,119.1 481.4,121.1 481.8,123.1 482.2,125.0 482.6,127.0 483.0,128.9 483.3,130.9 483.7,132.9 484.1,134.8 484.5,136.8 484.9,138.8 485.3,140.7 485.8,142.7 486.2,144.6 486.7,146.5 487.3,148.5 487.8,150.4 488.4,152.3 488.9,154.2 489.5,156.1 490.1,158.0 490.4,158.8" fill="none" stroke="#00ff00" stroke-width="12.5" stroke-linejoin="round" stroke-dasharray="40.18 9.11 20.35 9.11" stroke-dashoffset="74.20"/>
<polyline points="490.4,158.8 491.0,160.6 491.8,162.5 492.5,164.3 493.4,166.2 494.3,167.9 495.2,169.7 496.2,171.4 497.3,173.1 498.3,174.8 499.4,176.5 500.6,178.2 501.8,178.7 503.3,177.4 504.7,176.0 506.1,174.5 507.4,173.0 508.6,171.4 509.6,169.7 510.5,167.9 511.2,166.0 511.7,164.1 512.0,162.1 512.4,160.1 512.7,158.1 513.2,156.2 513.9,154.3 514.6,152.5 515.5,150.7 516.3,148.9 517.2,147.1 518.1,145.3 519.0,143.5 519.8,141.7 520.5,139.8 521.1,137.9 521.6,136.0 522.0,134.0 522.1,133.7" fill="none" stroke="#00ff00" stroke-width="12.5" stroke-linejoin="round" stroke-dasharray="37.89 8.59 19.18 8.59" stroke-dashoffset="69.96"/>
<polyline points="522.1,133.7 522.4,131.8 522.7,129.8 523.1,127.8 523.4,125.9 523.7,123.9 524.1,121.9 524.4,119.9 524.7,118.0 525.1,116.0 525.4,114.0 525.8,112.1 526.1,110.1 526.5,108.1 526.8,106.1 527.2,104.2 527.6,102.2 527.9,100.3 528.3,98.3 528.7,96.3 529.1,94.4 529.5,92.4 529.9,90.5 530.4,88.5 530.8,86.6 531.2,84.6 531.7,82.6 532.1,80.7 532.5,78.7 532.8,76.8 533.2,74.8 533.5,72.8 533.8,70.8 534.1,68.9 534.5,66.9 534.8,64.9 535.2,63.0 535.7,61.0 536.2,59.1 536.7,57.2 537.1,56.0" fill="none" stroke="#00ff00" stroke-width="12.5" stroke-linejoin="round" stroke-dasharray="40.44 9.17 20.47 9.17" stroke-dashoffset="74.67"/>
<polyline points="537.1,56.0 537.8,54.1 538.6,52.3 539.5,50.5 540.5,48.8 541.6,47.1 543.2,45.8 544.9,45.7 546.5,46.7 547.8,48.3 548.9,49.9 550.0,51.6 551.0,53.3 552.0,55.0 552.9,56.8 553.8,58.6 554.7,60.4 555.5,62.2 556.3,64.1 557.1,65.9 557.9,67.7 558.8,69.5 559.6,71.3 560.4,73.2 561.3,75.0 562.2,76.7 563.3,78.4 564.5,80.1 565.7,81.6 567.0,83.1 568.4,84.5 569.8,86.0 571.3,87.3 572.7,88.7 574.2,90.1 575.5,91.6 576.9,93.0 578.2,94.5 579.0,95.5" fill="none" stroke="#00ff00" stroke-width="12.5" stroke-linejoin="round" stroke-dasharray="38.4 8.71 19.44 8.71" stroke-dashoffset="70.90"/>
<polyline points="579.0,95.5 580.3,97.1 581.5,98.6 582.0,100.5 582.1,102.5 582.2,104.5 582.3,106.5 582.5,108.5 582.7,110.5 582.9,112.5 583.1,114.4 583.3,116.4 583.5,118.4 583.7,120.4 584.0,122.4 584.3,124.4 584.6,126.3 584.9,128.3 585.2,130.3 585.6,132.3 585.9,134.2 586.3,136.2 586.7,138.2 587.2,140.1 587.7,142.0 588.2,144.0 588.7,145.9 589.1,147.9 589.4,149.8 589.7,151.8 589.8,153.8 590.0,155.8 590.1,157.8 590.2,159.8 590.3,161.8 590.4,163.8 590.5,165.8 590.7,167.8 590.9,169.8 591.1,171.8 591.3,173.3" fill="none" stroke="#00ff00" stroke-width="12.5" stroke-linejoin="round" stroke-dasharray="40.57 9.2 20.54 9.2" stroke-dashoffset="74.90"/>
<polyline points="591.3,173.3 591.5,175.2 591.8,177.2 592.0,179.2 592.2,181.2 592.4,183.2 592.6,185.2 592.8,187.2 593.0,189.2 593.2,191.2 593.3,193.1 593.5,195.1 593.7,197.1 593.8,199.1 594.0,201.1 594.1,203.1 594.3,205.1 594.4,207.1 594.6,209.1 594.7,211.1 594.9,213.1 595.0,215.1 595.2,217.1 595.3,219.1 595.5,221.1 595.6,223.1 595.8,225.1 595.9,227.1 596.0,229.0 596.2,231.0 596.3,233.0 596.5,235.0 596.6,237.0 596.8,239.0 596.9,241.0 597.0,243.0 597.2,245.0 597.3,247.0 597.5,249.0 597.6,251.0" fill="none" stroke="#00ff00" stroke-width="12.5" stroke-linejoin="round" stroke-dasharray="39.8 9.02 20.15 9.02" stroke-dashoffset="73.49"/>
<polyline points="597.6,251.0 597.7,253.0 597.9,255.0 598.0,257.0 598.2,259.0 598.3,261.0 598.4,263.0 598.6,265.0 598.7,267.0 598.9,268.9 599.0,270.9 599.2,272.9 599.3,274.9 599.5,276.9 599.6,278.9 599.7,280.9 599.9,282.9 600.0,284.9 600.2,286.9 600.3,288.9 600.5,290.9 600.6,292.9 600.8,294.9 600.9,296.9 601.1,298.9 601.2,300.9 601.4,302.9 601.5,304.8 601.7,306.8 601.9,308.8 602.0,310.8 602.2,312.8 602.3,314.8 602.5,316.8 602.6,318.8 602.8,320.8 602.9,322.8 603.1,324.8 603.3,326.8 603.4,328.8 603.5,329.5" fill="none" stroke="#00ff00" stroke-width="12.5" stroke-linejoin="round" stroke-dasharray="40.18 9.11 20.35 9.11" stroke-dashoffset="74.20"/>
<polyline points="603.5,329.5 603.7,331.5 603.8,333.5 604.0,335.5 604.1,337.5 604.3,339.5 604.5,341.5 604.6,343.5 604.8,345.5 605.0,347.5 605.2,349.4 605.3,351.4 605.5,353.4 605.7,355.4 605.9,357.4 606.1,359.4 606.2,361.4 606.4,363.4 606.6,365.4 606.8,367.4 607.0,369.4 607.2,371.4 607.4,373.3 607.6,375.3 607.8,377.3 608.0,379.3 608.2,381.3 608.4,383.3 608.6,385.3 608.8,387.3 609.0,389.3 609.2,391.3 609.4,393.2 609.6,395.2 609.9,397.2 610.1,399.2 610.3,401.2 610.5,403.2 610.8,405.2 611.0,407.2 611.1,407.9" fill="none" stroke="#00ff00" stroke-width="12.5" stroke-linejoin="round" stroke-dasharray="40.18 9.11 20.35 9.11" stroke-dashoffset="74.20"/>
<polyline points="611.1,407.9 611.3,409.9 611.6,411.9 611.8,413.9 612.0,415.8 612.3,417.8 612.5,419.8 612.8,421.8 613.0,423.8 613.3,425.8 613.5,427.8 613.8,429.7 614.0,431.7 614.3,433.7 614.5,435.7 614.8,437.7 615.0,439.7 615.3,441.6 615.5,443.6 615.8,445.6 616.0,447.6 616.3,449.6 616.5,451.6 616.7,453.5 617.0,455.5 617.2,457.5 617.5,459.5 617.7,461.5 618.0,463.5 618.2,465.5 618.5,467.4 618.7,469.4 618.9,471.4 619.2,473.4 619.4,475.4 619.6,477.4 619.9,479.4 620.1,481.3 620.3,483.3 620.5,485.3 620.8,487.3 621.0,489.3 621.2,491.3 621.4,493.3 621.7,495.3 621.9,497.2 622.1,499.2 622.3,501.2 622.5,503.2 622.7,505.2 623.0,507.2 623.2,509.2 623.4,511.2 623.6,513.2 623.8,515.1 624.0,517.1 624.0,517.4" fill="none" stroke="#00ff00" stroke-width="12.5" stroke-linejoin="round" stroke-dasharray="42.08 8.4 52.29 7.48" stroke-dashoffset="105.70"/>
<polyline points="624.0,517.4 624.3,519.4 624.5,521.4 624.7,523.3 624.9,525.3 625.1,527.3 625.3,529.3 625.5,531.3 625.7,533.3 625.9,535.3 626.1,537.3 626.3,539.3 626.5,541.3 626.7,543.2 626.9,545.2 627.1,547.2 627.3,549.2 627.5,551.2 627.7,553.2 627.9,555.2 628.1,557.2 628.4,559.2 628.6,561.1 628.8,563.1 629.0,565.1 629.2,567.1 629.4,569.1 629.6,571.1 629.8,573.1 630.0,575.1 630.2,577.1 630.4,579.1 630.5,581.0 630.7,583.0 630.9,585.0 631.1,587.0 631.3,589.0 631.5,591.0 631.7,593.0 631.9,595.0 632.1,596.2" fill="none" stroke="#00ff00" stroke-width="12.5" stroke-linejoin="round" stroke-dasharray="40.44 9.17 20.47 9.17" stroke-dashoffset="74.67"/>
<polyline points="632.1,596.2 632.3,598.2 632.5,600.2 632.7,602.2 632.9,604.2 633.1,606.2 633.3,608.2 633.6,610.1 633.8,612.1 634.0,614.1 634.3,616.1 634.5,618.1 634.8,620.1 635.0,622.1 635.3,624.0 635.5,626.0 635.8,628.0 636.1,630.0 636.4,632.0 636.7,633.9 637.0,635.9 637.3,637.9 637.6,639.9 638.0,641.8 638.3,643.8 638.7,645.8 639.0,647.7 639.4,649.7 639.7,651.7 640.1,653.6 640.5,655.6 640.9,657.6 641.2,659.5 641.6,661.5 642.0,663.5 642.4,665.4 642.8,667.4 643.2,669.3 643.6,671.3 644.0,673.3 644.1,673.5" fill="none" stroke="#00ff00" stroke-width="12.5" stroke-linejoin="round" stroke-dasharray="39.93 9.05 20.22 9.05" stroke-dashoffset="73.72"/>
<polyline points="644.1,673.5 644.5,675.5 644.9,677.4 645.3,679.4 645.7,681.3 646.1,683.3 646.5,685.2 646.9,687.2 647.4,689.2 647.8,691.1 648.2,693.1 648.7,695.0 649.1,697.0 649.6,698.9 650.0,700.9 650.5,702.8 651.0,704.7 651.5,706.7 652.0,708.6 652.5,710.5 653.1,712.5 653.6,714.4 654.2,716.3 654.8,718.2 655.4,720.1 655.9,722.0 656.5,724.0 657.1,725.9 657.8,727.8 658.4,729.7 659.0,731.6 659.7,733.5 660.3,735.4 660.9,737.2 661.6,739.1 662.2,741.0 662.9,742.9 663.6,744.8 664.3,746.7 664.6,747.6" fill="none" stroke="#00ff00" stroke-width="12.5" stroke-linejoin="round" stroke-dasharray="39.29 8.91 19.89 8.91" stroke-dashoffset="72.55"/>
<polyline points="664.6,747.6 665.4,749.5 666.1,751.3 666.9,753.2 667.7,755.0 668.5,756.8 669.3,758.7 670.1,760.5 671.0,762.3 671.8,764.1 672.7,765.9 673.6,767.7 674.6,769.4 675.5,771.2 676.5,773.0 677.5,774.7 678.4,776.4 679.5,778.2 680.5,779.9 681.5,781.6 682.6,783.3 683.7,785.0 684.8,786.6 685.9,788.3 687.1,789.9 688.2,791.5 689.4,793.1 690.7,794.7 691.9,796.3 693.1,797.9 694.4,799.4 695.6,801.0 696.8,802.6 698.0,804.2 699.3,805.8 700.5,807.3 701.7,808.9 702.9,810.5 704.1,812.1 705.3,813.7 705.6,814.1" fill="none" stroke="#00ff00" stroke-width="12.5" stroke-linejoin="round" stroke-dasharray="40.06 9.08 20.28 9.08" stroke-dashoffset="73.96"/>
<polyline points="705.6,814.1 706.9,815.7 708.1,817.3 709.3,818.8 710.6,820.4 711.8,822.0 713.1,823.5 714.3,825.1 715.6,826.6 716.8,828.2 718.1,829.7 719.4,831.3 720.6,832.8 721.9,834.4 723.2,835.9 724.5,837.4 725.8,838.9 727.1,840.5 728.4,842.0 729.7,843.5 731.0,845.0 732.3,846.5 733.6,848.0 735.0,849.5 736.3,851.0 737.6,852.5 739.0,854.0 740.3,855.5 741.6,857.0 743.0,858.4 744.4,859.9 745.8,861.3 747.2,862.7 748.6,864.1 750.1,865.5 751.6,866.8 753.0,868.2 754.5,869.5 756.1,870.8 757.2,871.8" fill="none" stroke="#00ff00" stroke-width="12.5" stroke-linejoin="round" stroke-dasharray="39.55 8.97 20.02 8.97" stroke-dashoffset="73.02"/>
<polyline points="757.2,871.8 758.8,873.0 760.4,874.2 762.0,875.4 763.6,876.6 765.3,877.7 766.9,878.8 768.6,879.9 770.3,880.9 772.1,881.9 773.8,882.9 775.6,883.8 777.4,884.7 779.2,885.6 781.0,886.4 782.8,887.2 784.7,888.0 786.5,888.7 788.4,889.5 790.3,890.1 792.1,890.8 794.0,891.5 795.9,892.1 797.8,892.8 799.7,893.4 801.6,894.0 803.5,894.6 805.4,895.2 807.3,895.8 809.2,896.4 811.2,897.0 813.1,897.6 815.0,898.2 816.9,898.7 818.8,899.3 820.7,899.9 822.6,900.5 824.6,901.1 826.5,901.7 828.4,902.3 830.3,902.8 832.2,903.4 833.2,903.7" fill="none" stroke="#00ff00" stroke-width="12.5" stroke-linejoin="round" stroke-dasharray="42.35 9.6 21.44 9.6" stroke-dashoffset="78.20"/>
<polyline points="833.2,903.7 835.1,904.3 837.0,904.9 838.9,905.5 840.8,906.0 842.7,906.6 844.7,907.1 846.6,907.7 848.5,908.2 850.4,908.7 852.4,909.3 854.3,909.8 856.2,910.3 858.2,910.8 860.1,911.2 862.1,911.7 864.0,912.2 866.0,912.6 867.9,913.1 869.9,913.5 871.8,913.9 873.8,914.3 875.8,914.7 877.7,915.0 879.7,915.4 881.7,915.8 883.6,916.1 885.6,916.4 887.6,916.7 889.5,917.0 891.5,917.3 893.5,917.6 895.5,917.9 897.5,918.1 899.5,918.4 901.4,918.6 903.4,918.8 905.4,919.1 907.4,919.3 908.6,919.4" fill="none" stroke="#00ff00" stroke-width="12.5" stroke-linejoin="round" stroke-dasharray="39.42 8.94 19.96 8.94" stroke-dashoffset="72.78"/>
<polyline points="908.6,919.4 910.6,919.6 912.6,919.8 914.6,919.9 916.6,920.1 918.6,920.3 920.6,920.4 922.6,920.6 924.6,920.7 926.6,920.9 928.6,921.0 930.6,921.1 932.6,921.2 934.6,921.4 936.6,921.5 938.6,921.6 940.6,921.7 942.6,921.8 944.6,921.9 946.6,922.0 948.6,922.1 950.6,922.2 952.5,922.3 954.5,922.4 956.5,922.5 958.5,922.6 960.5,922.7 962.5,922.7 964.5,922.8 966.5,922.8 968.5,922.9 970.5,922.9 972.5,922.9 974.5,922.9 976.5,922.9 978.5,922.9 980.5,922.9 982.5,922.9 984.3,922.9" fill="none" stroke="#00ff00" stroke-width="12.5" stroke-linejoin="round" stroke-dasharray="38.65 8.76 19.57 8.76" stroke-dashoffset="71.37"/>
<polyline points="984.3,922.9 986.3,922.9 988.3,922.9 990.3,922.8 992.3,922.8 994.3,922.8 996.3,922.7 998.3,922.7 1000.3,922.6 1002.3,922.6 1004.3,922.5 1006.3,922.5 1008.3,922.4 1010.3,922.3 1012.3,922.3 1014.3,922.2 1016.3,922.1 1018.3,922.0 1020.3,921.9 1022.3,921.9 1024.3,921.8 1026.3,921.7 1028.3,921.6 1030.3,921.6 1032.3,921.5 1034.3,921.5 1036.3,921.5 1038.3,921.4 1040.3,921.4 1042.3,921.4 1044.3,921.5 1046.3,921.5 1048.3,921.6 1050.3,921.7 1052.3,921.8 1054.3,921.9 1056.2,922.1 1058.2,922.3 1060.2,922.5 1062.0,922.7" fill="none" stroke="#00ff00" stroke-width="12.5" stroke-linejoin="round" stroke-dasharray="39.67 8.99 20.09 8.99" stroke-dashoffset="73.25"/>
<polyline points="1062.0,922.7 1064.0,922.9 1065.9,923.1 1067.9,923.3 1069.9,923.5 1071.9,923.7 1073.9,923.8 1075.9,923.9 1077.9,924.0 1079.9,924.1 1081.9,924.1 1083.9,924.2 1085.9,924.2 1087.9,924.2 1089.9,924.2 1091.9,924.2 1093.9,924.2 1095.9,924.1 1097.9,924.1 1099.9,924.1 1101.9,924.0 1103.9,924.0 1105.9,923.9 1107.9,923.9 1109.9,923.9 1111.9,923.8 1113.9,923.8 1115.9,923.8 1117.9,923.7 1119.9,923.7 1121.9,923.7 1123.9,923.7 1125.9,923.7 1127.9,923.7 1129.9,923.8 1131.9,923.8 1133.9,923.9 1135.9,924.0 1137.9,924.0 1139.4,924.1" fill="none" stroke="#00ff00" stroke-width="12.5" stroke-linejoin="round" stroke-dasharray="39.55 8.97 20.02 8.97" stroke-dashoffset="73.02"/>
<polyline points="1139.4,924.1 1141.4,924.2 1143.4,924.3 1145.4,924.4 1147.4,924.4 1149.4,924.5 1151.4,924.6 1153.4,924.7 1155.4,924.8 1157.4,924.8 1159.4,924.9 1161.4,925.0 1163.4,925.0 1165.4,925.0 1167.4,925.0 1169.4,925.0 1171.4,925.0 1173.4,925.0 1175.4,925.0 1177.4,925.0 1179.4,925.0 1181.4,925.0 1183.4,925.0 1185.4,924.9 1187.4,924.9 1189.4,924.9 1191.4,924.8 1193.4,924.8 1195.4,924.8 1197.4,924.7 1199.4,924.7 1201.4,924.6 1203.4,924.6 1205.4,924.5 1207.4,924.4 1209.4,924.3 1211.4,924.2 1213.4,924.1 1215.4,924.0 1217.4,923.9 1218.1,923.9" fill="none" stroke="#00ff00" stroke-width="12.5" stroke-linejoin="round" stroke-dasharray="40.18 9.11 20.35 9.11" stroke-dashoffset="74.20"/>
<polyline points="1218.1,923.9 1220.1,923.8 1222.1,923.7 1224.1,923.5 1226.1,923.4 1228.1,923.3 1230.1,923.2 1232.1,923.1 1234.1,923.0 1236.1,922.9 1238.1,922.8 1240.1,922.7 1242.1,922.6 1244.1,922.5 1246.1,922.4 1248.1,922.3 1250.1,922.2 1252.1,922.1 1254.1,922.1 1256.1,922.0 1258.1,921.9 1260.1,921.9 1262.1,921.8 1264.1,921.8 1266.1,921.7 1268.1,921.7 1270.1,921.7 1272.1,921.7 1274.1,921.7 1276.1,921.7 1278.1,921.8 1280.0,921.8 1282.0,921.9 1284.0,922.1 1286.0,922.3 1288.0,922.5 1290.0,922.8 1292.0,923.2 1293.9,923.6 1294.9,923.8" fill="none" stroke="#00ff00" stroke-width="12.5" stroke-linejoin="round" stroke-dasharray="39.29 8.91 19.89 8.91" stroke-dashoffset="72.55"/>
<polyline points="1294.9,923.8 1296.9,924.2 1298.8,924.6 1300.8,925.1 1302.7,925.6 1304.6,926.2 1306.5,926.7 1308.4,927.3 1310.3,928.0 1312.3,928.5 1314.2,929.1 1316.1,929.5 1318.1,929.9 1320.1,930.2 1322.0,930.5 1324.0,930.7 1326.0,930.9 1328.0,931.1 1330.0,931.2 1332.0,931.3 1334.0,931.4 1336.0,931.5 1338.0,931.6 1340.0,931.6 1342.0,931.6 1344.0,931.6 1346.0,931.6 1348.0,931.6 1350.0,931.6 1352.0,931.6 1354.0,931.6 1356.0,931.5 1358.0,931.5 1360.0,931.4 1362.0,931.4 1364.0,931.3 1366.0,931.3 1368.0,931.2 1370.0,931.1 1372.0,931.1 1374.0,931.0 1374.2,931.0" fill="none" stroke="#00ff00" stroke-width="12.5" stroke-linejoin="round" stroke-dasharray="40.95 9.28 20.73 9.28" stroke-dashoffset="75.61"/>
<polyline points="1374.2,931.0 1376.2,930.9 1378.2,930.8 1380.2,930.7 1382.2,930.6 1384.2,930.6 1386.2,930.5 1388.2,930.4 1390.2,930.3 1392.2,930.2 1394.2,930.2 1396.2,930.1 1398.2,930.0 1400.2,929.9 1402.2,929.8 1404.2,929.8 1406.2,929.7 1408.2,929.6 1410.2,929.5 1412.2,929.4 1414.2,929.4 1416.2,929.3 1418.2,929.2 1420.2,929.1 1422.2,929.0 1424.2,928.9 1426.2,928.8 1428.2,928.8 1430.2,928.7 1432.2,928.6 1434.2,928.5 1436.2,928.4 1438.2,928.3 1440.2,928.2 1442.2,928.1 1444.2,928.0 1446.2,927.9 1448.2,927.9 1450.2,927.8 1451.9,927.7" fill="none" stroke="#00ff00" stroke-width="12.5" stroke-linejoin="round" stroke-dasharray="39.67 8.99 20.09 8.99" stroke-dashoffset="73.25"/>
<polyline points="1451.9,927.7 1453.9,927.6 1455.9,927.5 1457.9,927.4 1459.9,927.3 1461.9,927.2 1463.9,927.1 1465.9,927.0 1467.9,926.9 1469.9,926.8 1471.9,926.7 1473.9,926.6 1475.9,926.5 1477.9,926.4 1479.9,926.3 1481.9,926.2 1483.9,926.1 1485.9,926.0 1487.9,925.9 1489.9,925.8 1491.9,925.7 1493.9,925.6 1495.9,925.5 1497.9,925.4 1499.9,925.3 1501.9,925.2 1503.9,925.1 1505.9,925.0 1507.8,924.9 1509.8,924.7 1511.8,924.6 1513.8,924.5 1515.8,924.3 1517.8,924.2 1519.8,924.1 1521.8,923.9 1523.8,923.8 1525.8,923.6 1527.8,923.5 1529.8,923.3 1530.5,923.2" fill="none" stroke="#00ff00" stroke-width="12.5" stroke-linejoin="round" stroke-dasharray="40.18 9.11 20.35 9.11" stroke-dashoffset="74.20"/>
<polyline points="1530.5,923.2 1532.5,923.1 1534.5,922.9 1536.5,922.7 1538.5,922.6 1540.5,922.4 1542.5,922.2 1544.5,922.1 1546.5,921.9 1548.5,921.7 1550.5,921.5 1552.5,921.4 1554.5,921.2 1556.4,921.0 1558.4,920.9 1560.4,920.7 1562.4,920.5 1564.4,920.3 1566.4,920.2 1568.4,920.0 1570.4,919.8 1572.4,919.6 1574.4,919.5 1576.4,919.3 1578.4,919.1 1580.4,918.9 1582.3,918.7 1584.3,918.6 1586.3,918.4 1588.3,918.2 1590.3,918.0 1592.3,917.8 1594.3,917.7 1596.3,917.5 1598.3,917.3 1600.3,917.1 1602.3,916.9 1604.3,916.7 1606.2,916.6 1608.2,916.4" fill="none" stroke="#00ff00" stroke-width="12.5" stroke-linejoin="round" stroke-dasharray="39.8 9.02 20.15 9.02" stroke-dashoffset="73.49"/>
<polyline points="1608.2,916.4 1610.2,916.2 1612.2,916.0 1614.2,915.8 1616.2,915.6 1618.2,915.4 1620.2,915.2 1622.2,915.0 1624.2,914.9 1626.2,914.7 1628.1,914.5 1630.1,914.3 1632.1,914.1 1634.1,913.9 1636.1,913.7 1638.1,913.5 1640.1,913.3 1642.1,913.1 1644.1,912.9 1646.1,912.8 1648.1,912.6 1650.0,912.4 1651.8,912.2" fill="none" stroke="#00ff00" stroke-width="12.5" stroke-linejoin="round" stroke-dasharray="39.8 9.02 20.15 9.02" stroke-dashoffset="73.49"/>
<path d="M177.5 137H1651.8" stroke="#808080" stroke-width="8.0" stroke-dasharray="30.7 27.97" fill="none"/>
<path d="M180.5 888.8H1651.8" stroke="#808080" stroke-width="8.0" stroke-dasharray="30.7 27.97" fill="none"/>
<rect x="204" y="641" width="389" height="202" fill="#fff" stroke="#101010" stroke-width="2.0"/>
<path d="M215 678H324.1" stroke="#0000ff" stroke-width="12.5" stroke-dasharray="10.6 9" fill="none"/>
<path d="M215 741.9H324.1" stroke="#ff0000" stroke-width="12.5" fill="none"/>
<path d="M215 806H324.1" stroke="#00ff00" stroke-width="12.5" stroke-dasharray="40 9 20 9" fill="none"/>
<text x="337.8" y="694.9" font-family='"DejaVu Sans Condensed", "DejaVu Sans", "Liberation Sans", sans-serif' font-size="60.5" fill="#000" stroke="#000" stroke-width="0.6" stroke-linejoin="round">d<tspan x="373.6" y="704.3" font-family='"DejaVu Sans", "Liberation Sans", sans-serif' font-size="35.8" stroke-width="0.3">1</tspan><tspan x="393.6" y="694.7" font-family='"Liberation Sans", Arial, Helvetica, sans-serif' font-size="50.5" stroke-width="1.4">=70nm</tspan></text>
<text x="337.8" y="756.7" font-family='"DejaVu Sans Condensed", "DejaVu Sans", "Liberation Sans", sans-serif' font-size="60.5" fill="#000" stroke="#000" stroke-width="0.6" stroke-linejoin="round">d<tspan x="373.6" y="766.1" font-family='"DejaVu Sans", "Liberation Sans", sans-serif' font-size="35.8" stroke-width="0.3">1</tspan><tspan x="393.6" y="757" font-family='"Liberation Sans", Arial, Helvetica, sans-serif' font-size="50.5" stroke-width="1.4">=100nm</tspan></text>
<text x="337.8" y="821.2" font-family='"DejaVu Sans Condensed", "DejaVu Sans", "Liberation Sans", sans-serif' font-size="60.5" fill="#000" stroke="#000" stroke-width="0.6" stroke-linejoin="round">d<tspan x="373.6" y="830.6" font-family='"DejaVu Sans", "Liberation Sans", sans-serif' font-size="35.8" stroke-width="0.3">1</tspan><tspan x="393.6" y="821.5" font-family='"Liberation Sans", Arial, Helvetica, sans-serif' font-size="50.5" stroke-width="1.4">=130nm</tspan></text>
<rect x="1122" y="489" width="216" height="88.6" fill="#ff9900"/>
<rect x="1157.8" y="363.3" width="144.4" height="61.8" fill="#ff9900"/>
<path d="M1122 300H1337V488.5H1122ZM1122 363H1337M1122 426H1337M1157.1 363V426M1302.9 363V426" stroke="#55ffff" stroke-width="2.0" fill="none"/>
<path d="M1360.9 324.6V338.1" stroke="#000" stroke-width="2.0" fill="none"/><path d="M1360.9 300.6l9 25h-18zM1360.9 362.1l9 -25h-18z" fill="#000"/>
<path d="M1360.9 387.5V401.1" stroke="#000" stroke-width="2.0" fill="none"/><path d="M1360.9 363.5l9 25h-18zM1360.9 425.1l9 -25h-18z" fill="#000"/>
<path d="M1360.9 450.5V465.2" stroke="#0000ff" stroke-width="2.0" fill="none"/><path d="M1360.9 426.5l9 25h-18zM1360.9 489.2l9 -25h-18z" fill="#0000ff"/>
<path d="M1360.9 514.6V551.3" stroke="#000" stroke-width="2.0" fill="none"/><path d="M1360.9 490.6l9 25h-18zM1360.9 575.3l9 -25h-18z" fill="#000"/>
<path d="M1348 299.9H1372.6M1348 362.8H1372.6M1348 425.8H1372.6M1348 489.9H1372.6M1348 576H1372.6" stroke="#000" stroke-width="1.8" fill="none"/>
<text x="1386.8" y="348.3" font-family='"DejaVu Sans Condensed", "DejaVu Sans", "Liberation Sans", sans-serif' font-size="60.5" fill="#000" stroke="#000" stroke-width="0.6" stroke-linejoin="round">d<tspan x="1422.6" y="357.7" font-family='"DejaVu Sans", "Liberation Sans", sans-serif' font-size="35.8" stroke-width="0.3">3</tspan></text>
<text x="1386.8" y="411.5" font-family='"DejaVu Sans Condensed", "DejaVu Sans", "Liberation Sans", sans-serif' font-size="60.5" fill="#000" stroke="#000" stroke-width="0.6" stroke-linejoin="round">d<tspan x="1422.6" y="420.9" font-family='"DejaVu Sans", "Liberation Sans", sans-serif' font-size="35.8" stroke-width="0.3">2</tspan></text>
<text x="1386.8" y="474.2" font-family='"DejaVu Sans Condensed", "DejaVu Sans", "Liberation Sans", sans-serif' font-size="60.5" fill="#0000ff" stroke="#0000ff" stroke-width="0.6" stroke-linejoin="round">d<tspan x="1422.6" y="483.6" font-family='"DejaVu Sans", "Liberation Sans", sans-serif' font-size="35.8" stroke-width="0.3">1</tspan></text>
<text x="1390.8" y="555.4" font-family='"DejaVu Sans Condensed", "DejaVu Sans", "Liberation Sans", sans-serif' font-size="60.5" fill="#000" stroke="#000" stroke-width="0.6" stroke-linejoin="round">d</text>
<text transform="translate(1545 115) scale(0.905 1)" font-family='"DejaVu Sans Condensed", "DejaVu Sans", "Liberation Sans", sans-serif' font-size="84.5" fill="#000" stroke="#000" stroke-width="1.0" stroke-linejoin="round">(<tspan font-family='"DejaVu Sans", sans-serif' font-size="73.4" dx="0.9" dy="-4.0">a</tspan><tspan dx="0.9" dy="4.0">)</tspan></text>
<text transform="translate(696.2 1123.9) scale(1.04 1)" font-family='"Liberation Sans", Arial, Helvetica, sans-serif' font-size="56.5" fill="#262626" stroke="#262626" stroke-width="1.4" stroke-linejoin="round">Wavelength(<tspan font-family='"Liberation Serif", "DejaVu Serif", serif' font-style="italic" font-size="62" stroke-width="0.8" dx="3.0" textLength="33.5" lengthAdjust="spacingAndGlyphs">μ</tspan><tspan dx="-0.8">m)</tspan></text>
<text transform="translate(56.3 516) rotate(-90) scale(1.065 1)" font-family='"Liberation Sans", Arial, Helvetica, sans-serif' font-size="55" fill="#262626" stroke="#262626" stroke-width="1.4" stroke-linejoin="round" text-anchor="middle">Absorption</text>
</g>
<g id="plot-b">
<path d="M264.12 2205.4v-16.4M264.12 1266.1v16.4M349.84 2205.4v-16.4M349.84 1266.1v16.4M435.55 2205.4v-16.4M435.55 1266.1v16.4M521.27 2205.4v-16.4M521.27 1266.1v16.4M606.99 2205.4v-16.4M606.99 1266.1v16.4M692.71 2205.4v-16.4M692.71 1266.1v16.4M778.42 2205.4v-16.4M778.42 1266.1v16.4M864.14 2205.4v-16.4M864.14 1266.1v16.4M949.86 2205.4v-16.4M949.86 1266.1v16.4M1035.58 2205.4v-16.4M1035.58 1266.1v16.4M1121.29 2205.4v-16.4M1121.29 1266.1v16.4M1207.01 2205.4v-16.4M1207.01 1266.1v16.4M1292.73 2205.4v-16.4M1292.73 1266.1v16.4M1378.45 2205.4v-16.4M1378.45 1266.1v16.4M1464.16 2205.4v-16.4M1464.16 1266.1v16.4M1549.88 2205.4v-16.4M1549.88 1266.1v16.4M178.4 2111.47h16.4M1635.6 2111.47h-16.4M178.4 2017.54h16.4M1635.6 2017.54h-16.4M178.4 1923.61h16.4M1635.6 1923.61h-16.4M178.4 1829.68h16.4M1635.6 1829.68h-16.4M178.4 1735.75h16.4M1635.6 1735.75h-16.4M178.4 1641.82h16.4M1635.6 1641.82h-16.4M178.4 1547.89h16.4M1635.6 1547.89h-16.4M178.4 1453.96h16.4M1635.6 1453.96h-16.4M178.4 1360.03h16.4M1635.6 1360.03h-16.4" stroke="#262626" stroke-width="2.5" fill="none"/>
<path d="M177.05 1265H1636.95V1268H177.05ZM177.05 2204.1H1636.95V2206.85H177.05ZM177.05 1265H180V2206.85H177.05ZM1634 1265H1636.95V2206.85H1634Z" fill="#262626"/>
<g font-family='"Liberation Sans", Arial, Helvetica, sans-serif' font-size="50.5" fill="#262626" stroke="#262626" stroke-width="1.4" stroke-linejoin="round">
<g text-anchor="middle">
<text transform="translate(177.5 2271) scale(0.987 1)">0.3</text>
<text transform="translate(263.22 2271) scale(0.987 1)">0.4</text>
<text transform="translate(348.94 2271) scale(0.987 1)">0.5</text>
<text transform="translate(434.65 2271) scale(0.987 1)">0.6</text>
<text transform="translate(520.37 2271) scale(0.987 1)">0.7</text>
<text transform="translate(606.09 2271) scale(0.987 1)">0.8</text>
<text transform="translate(691.81 2271) scale(0.987 1)">0.9</text>
<text transform="translate(777.52 2271) scale(0.987 1)">1</text>
<text transform="translate(863.24 2271) scale(0.987 1)">1.1</text>
<text transform="translate(948.96 2271) scale(0.987 1)">1.2</text>
<text transform="translate(1034.68 2271) scale(0.987 1)">1.3</text>
<text transform="translate(1120.39 2271) scale(0.987 1)">1.4</text>
<text transform="translate(1206.11 2271) scale(0.987 1)">1.5</text>
<text transform="translate(1291.83 2271) scale(0.987 1)">1.6</text>
<text transform="translate(1377.55 2271) scale(0.987 1)">1.7</text>
<text transform="translate(1463.26 2271) scale(0.987 1)">1.8</text>
<text transform="translate(1548.98 2271) scale(0.987 1)">1.9</text>
<text transform="translate(1633.7 2271) scale(0.987 1)">2</text>
</g><g text-anchor="end">
<text transform="translate(157.9 2222.4) scale(0.987 1)">0</text>
<text transform="translate(157.9 2128.47) scale(0.987 1)">0.1</text>
<text transform="translate(157.9 2034.54) scale(0.987 1)">0.2</text>
<text transform="translate(157.9 1940.61) scale(0.987 1)">0.3</text>
<text transform="translate(157.9 1846.68) scale(0.987 1)">0.4</text>
<text transform="translate(157.9 1752.75) scale(0.987 1)">0.5</text>
<text transform="translate(157.9 1658.82) scale(0.987 1)">0.6</text>
<text transform="translate(157.9 1564.89) scale(0.987 1)">0.7</text>
<text transform="translate(157.9 1470.96) scale(0.987 1)">0.8</text>
<text transform="translate(157.9 1377.03) scale(0.987 1)">0.9</text>
<text transform="translate(157.9 1283.1) scale(0.987 1)">1</text>
</g></g>
<polyline points="178.4,1281.4 179.4,1279.6 180.3,1277.9 181.4,1276.2 182.6,1274.6 183.8,1273.0 185.2,1271.6 186.8,1270.5 188.6,1269.6 190.6,1269.3 192.6,1269.5 194.6,1269.8 196.5,1270.3 198.4,1271.1 200.2,1271.8 202.0,1272.7 203.8,1273.6 205.6,1274.6 207.3,1275.6 209.0,1276.6 210.7,1277.7 212.3,1278.9 213.9,1280.1 215.4,1281.3 217.0,1282.6 218.6,1283.8 220.2,1284.9 222.0,1286.0 223.7,1286.9 225.5,1287.8 227.3,1288.6 229.2,1289.4 231.0,1290.1 232.9,1290.7 234.8,1291.3 236.8,1291.8 238.8,1292.1 240.7,1292.4 242.7,1292.5 244.7,1292.6 246.7,1292.6 248.7,1292.5 250.7,1292.4 252.7,1292.2 254.7,1292.0 256.7,1291.8 258.7,1291.5 260.6,1291.1 262.6,1290.7 264.5,1290.2 266.4,1289.6 268.3,1288.9 270.2,1288.2 272.0,1287.4 273.8,1286.6 275.7,1285.7 277.5,1284.9 279.3,1284.1 281.1,1283.2 282.9,1282.4 284.7,1281.5 286.5,1280.6 288.3,1279.7 290.1,1278.8 291.9,1278.0 293.7,1277.1 295.5,1276.3 297.4,1275.5 299.2,1274.8 301.1,1274.0 302.9,1273.2 304.8,1272.5 306.7,1271.8 308.5,1271.1 310.4,1270.6 312.4,1270.0 314.3,1269.5 316.3,1269.2 318.2,1268.8 320.2,1268.5 322.2,1268.2 324.2,1268.0 326.2,1267.8 328.2,1267.6 330.2,1267.6 332.2,1267.5 334.2,1267.6 336.2,1267.8 338.1,1268.1 340.1,1268.6 342.0,1269.2 343.9,1269.8 345.7,1270.6 347.5,1271.5 349.3,1272.4 351.0,1273.4 352.7,1274.5 354.3,1275.7 355.9,1276.9 357.3,1278.3 358.7,1279.7 360.1,1281.2 361.4,1282.7 362.7,1284.2 364.0,1285.7 365.3,1287.3 366.6,1288.8 367.8,1290.4 369.1,1291.9 370.3,1293.5 371.5,1295.1 372.7,1296.7 373.8,1298.3 375.0,1300.0 376.1,1301.7 377.1,1303.4 378.2,1305.1 379.2,1306.8 380.1,1308.6 381.1,1310.3 382.0,1312.1 382.9,1313.9 383.8,1315.7 384.7,1317.5 385.6,1319.2 386.5,1321.0 387.4,1322.8 388.3,1324.6 389.2,1326.4 390.1,1328.2 391.0,1330.0 391.9,1331.8 392.7,1333.6 393.5,1335.4 394.3,1337.3 395.0,1339.1 395.7,1341.0 396.3,1342.9 396.9,1344.8 397.5,1346.7 398.1,1348.6 398.6,1350.5 399.2,1352.5 399.8,1354.4 400.3,1356.3 401.0,1358.2 401.6,1360.1 402.2,1362.0 402.9,1363.9 403.5,1365.8 404.2,1367.7 404.8,1369.6 405.4,1371.5 406.1,1373.4 406.7,1375.3 407.3,1377.2 407.9,1379.1 408.4,1381.0 409.0,1382.9 409.5,1384.8 410.1,1386.8 410.6,1388.7 411.2,1390.6 411.7,1392.6 412.3,1394.5 412.8,1396.4 413.4,1398.3 413.9,1400.2 414.5,1402.2 415.0,1404.1 415.6,1406.0 416.2,1407.9 416.8,1409.8 417.3,1411.7 417.9,1413.7 418.5,1415.6 419.1,1417.5 419.6,1419.4 420.2,1421.3 420.8,1423.2 421.4,1425.1 422.0,1427.0 422.7,1428.9 423.3,1430.8 424.0,1432.7 424.6,1434.6 425.3,1436.5 426.0,1438.4 426.7,1440.2 427.4,1442.1 428.2,1443.9 429.0,1445.8 429.8,1447.6 430.6,1449.4 431.5,1451.2 432.3,1453.1 433.2,1454.9 434.1,1456.7 435.1,1458.4 436.1,1460.1 437.4,1461.6 438.9,1462.9 440.6,1463.8 442.6,1464.2 444.6,1464.3 446.6,1464.3 448.6,1464.2 450.6,1464.1 452.6,1464.0 454.6,1464.0 456.6,1464.1 458.5,1464.5 460.4,1465.1 462.2,1465.9 464.0,1466.8 465.7,1468.0 467.2,1469.2 468.7,1470.6 470.0,1472.1 471.1,1473.7 472.1,1475.5 473.0,1477.3 473.7,1479.1 474.3,1481.0 474.8,1483.0 475.3,1484.9 475.8,1486.9 476.2,1488.8 476.6,1490.8 477.0,1492.7 477.4,1494.7 477.8,1496.6 478.2,1498.6 478.6,1500.6 479.0,1502.5 479.4,1504.5 479.9,1506.4 480.4,1508.3 481.0,1510.3 481.7,1512.1 482.5,1514.0 483.3,1515.8 484.1,1517.6 485.0,1519.4 486.0,1521.2 486.9,1522.9 487.9,1524.7 488.9,1526.4 489.8,1524.8 490.7,1523.0 491.5,1521.2 492.3,1519.4 493.1,1517.5 493.9,1515.7 494.7,1513.8 495.4,1512.0 496.1,1510.1 496.8,1508.2 497.4,1506.3 498.1,1504.4 498.7,1502.5 499.2,1500.6 499.8,1498.7 500.3,1496.8 500.8,1494.8 501.3,1492.9 501.7,1490.9 502.2,1489.0 502.6,1487.0 502.9,1485.1 503.3,1483.1 503.6,1481.1 504.0,1479.1 504.3,1477.2 504.5,1475.2 504.8,1473.2 505.1,1471.2 505.3,1469.2 505.5,1467.3 505.8,1465.3 506.0,1463.3 506.1,1461.3 506.3,1459.3 506.5,1457.3 506.7,1455.3 506.9,1453.3 507.1,1451.3 507.3,1449.3 507.5,1447.3 507.7,1445.4 508.0,1443.4 508.2,1441.4 508.5,1439.4 508.7,1437.4 509.0,1435.4 509.3,1433.5 509.5,1431.5 509.8,1429.5 510.0,1427.5 510.2,1425.5 510.4,1423.5 510.6,1421.5 510.9,1419.6 511.0,1417.6 511.2,1415.6 511.4,1413.6 511.6,1411.6 511.8,1409.6 512.0,1407.6 512.2,1405.6 512.3,1403.6 512.5,1401.6 512.7,1399.6 512.9,1397.6 513.1,1395.7 513.3,1393.7 513.5,1391.7 513.7,1389.7 513.9,1387.7 514.2,1385.7 514.5,1383.7 514.7,1381.8 515.0,1379.8 515.3,1377.8 515.6,1375.8 515.9,1373.8 516.2,1371.9 516.5,1369.9 516.8,1367.9 517.1,1365.9 517.4,1364.0 517.7,1362.0 518.0,1360.0 518.3,1358.0 518.5,1356.0 518.8,1354.1 519.0,1352.1 519.3,1350.1 519.5,1348.1 519.7,1346.1 519.9,1344.1 520.0,1342.1 520.2,1340.1 520.4,1338.1 520.5,1336.1 520.7,1334.1 520.9,1332.2 521.0,1330.2 521.2,1328.2 521.4,1326.2 521.6,1324.2 521.8,1322.2 522.0,1320.2 522.2,1318.2 522.4,1316.2 522.6,1314.2 522.9,1312.3 523.1,1310.3 523.3,1308.3 523.6,1306.3 523.9,1304.3 524.1,1302.3 524.4,1300.4 524.7,1298.4 524.9,1296.4 525.2,1294.4 525.5,1292.4 525.8,1290.4 526.0,1288.5 526.3,1286.5 526.6,1284.5 526.9,1282.5 527.2,1280.5 527.5,1278.6 527.9,1276.6 528.3,1274.6 529.2,1272.9 530.6,1273.1 532.1,1274.4 533.4,1275.9 534.6,1277.5 535.8,1279.1 536.8,1280.8 537.8,1282.5 538.7,1284.3 539.5,1286.2 540.2,1288.0 540.9,1289.9 541.5,1291.8 542.1,1293.7 542.6,1295.7 543.2,1297.6 543.8,1299.5 544.4,1301.4 545.0,1303.3 545.7,1305.2 546.4,1307.1 547.0,1308.9 547.7,1310.8 548.3,1312.7 549.0,1314.6 549.6,1316.5 550.2,1318.4 550.7,1320.4 551.2,1322.3 551.7,1324.2 552.1,1326.2 552.6,1328.1 553.0,1330.1 553.4,1332.1 553.8,1334.0 554.2,1336.0 554.7,1337.9 555.1,1339.9 555.7,1341.8 556.2,1343.7 556.8,1345.6 557.5,1347.5 558.1,1349.4 558.7,1351.3 559.3,1353.2 559.9,1355.1 560.4,1357.1 560.8,1359.0 561.2,1361.0 561.5,1363.0 561.7,1365.0 562.0,1366.9 562.2,1368.9 562.4,1370.9 562.6,1372.9 562.8,1374.9 562.9,1376.9 563.2,1378.9 563.4,1380.9 563.6,1382.9 563.8,1384.8 564.1,1386.8 564.3,1388.8 564.6,1390.8 564.8,1392.8 565.1,1394.8 565.4,1396.8 565.6,1398.7 565.9,1400.7 566.1,1402.7 566.4,1404.7 566.6,1406.7 566.9,1408.7 567.2,1410.6 567.4,1412.6 567.7,1414.6 568.0,1416.6 568.3,1418.6 568.6,1420.5 568.9,1422.5 569.2,1424.5 569.5,1426.5 569.6,1427.0" fill="none" stroke="#0000ff" stroke-width="12.5" stroke-linejoin="round" stroke-dasharray="10.6 9.04" stroke-dashoffset="4.04"/>
<polyline points="569.6,1427.2 569.9,1429.2 570.2,1431.2 570.6,1433.1 570.9,1435.1 571.2,1437.1 571.5,1439.1 571.8,1441.0 572.1,1443.0 572.4,1445.0 572.7,1447.0 573.0,1448.9 573.3,1450.9 573.5,1452.9 573.8,1454.9 574.0,1456.9 574.2,1458.9 574.4,1460.9 574.6,1462.8 574.8,1464.8 575.0,1466.8 575.1,1468.8 575.3,1470.8 575.5,1472.8 575.6,1474.8 575.8,1476.8 576.0,1478.8 576.2,1480.8 576.4,1482.8 576.6,1484.8 576.8,1486.8 576.9,1488.7 577.1,1490.7 577.3,1492.7 577.5,1494.7 577.7,1496.7 577.9,1498.7 578.1,1500.7 578.2,1502.7 578.4,1504.7 578.6,1506.7 578.8,1508.7 579.0,1510.6 579.2,1512.6 579.4,1514.6 579.5,1516.6 579.7,1518.6 579.9,1520.6 580.1,1522.6 580.3,1524.6 580.5,1526.6 580.7,1528.6 580.9,1530.6 581.1,1532.5 581.3,1534.5 581.5,1536.5 581.7,1538.5 582.0,1540.5 582.2,1542.5 582.4,1544.5 582.7,1546.5 582.9,1548.4 583.1,1550.4 583.3,1552.4 583.6,1554.4 583.8,1556.4 584.0,1558.4 584.2,1560.4 584.3,1562.4 584.5,1564.4 584.7,1566.3 584.9,1568.3 585.1,1570.3 585.3,1572.3 585.5,1574.3 585.7,1576.3 585.9,1578.3 586.1,1580.3 586.3,1582.3 586.4,1583.0" fill="none" stroke="#0000ff" stroke-width="12.5" stroke-linejoin="round" stroke-dasharray="10.59 9.03" stroke-dashoffset="15.11"/>
<polyline points="586.4,1583.3 586.6,1585.3 586.8,1587.2 587.0,1589.2 587.2,1591.2 587.5,1593.2 587.7,1595.2 587.9,1597.2 588.1,1599.2 588.4,1601.2 588.6,1603.1 588.8,1605.1 589.0,1607.1 589.3,1609.1 589.5,1611.1 589.7,1613.1 590.0,1615.1 590.2,1617.1 590.4,1619.0 590.6,1621.0 590.9,1623.0 591.1,1625.0 591.3,1627.0 591.5,1629.0 591.7,1631.0 592.0,1633.0 592.2,1634.9 592.4,1636.9 592.6,1638.9 592.8,1640.9 593.0,1642.9 593.2,1644.9 593.4,1646.9 593.6,1648.9 593.8,1650.9 594.0,1652.9 594.2,1654.8 594.5,1656.8 594.7,1658.8 594.9,1660.8 595.2,1662.8 595.4,1664.8 595.7,1666.8 595.9,1668.7 596.2,1670.7 596.4,1672.7 596.6,1674.7 596.9,1676.7 597.1,1678.7 597.4,1680.7 597.6,1682.6 597.9,1684.6 598.1,1686.6 598.4,1688.6 598.6,1690.6 598.9,1692.6 599.1,1694.5 599.4,1696.5 599.7,1698.5 600.0,1700.5 600.2,1702.5 600.5,1704.4 600.8,1706.4 601.0,1708.4 601.3,1710.4 601.5,1712.4 601.7,1714.4 602.0,1716.4 602.2,1718.3 602.4,1720.3 602.7,1722.3 602.9,1724.3 603.2,1726.3 603.5,1728.3 603.8,1730.2 604.1,1732.2 604.4,1734.2 604.7,1736.2 605.1,1738.1 605.4,1740.1 605.8,1742.1 606.1,1744.0 606.5,1746.0 606.8,1748.0 607.1,1749.9 607.5,1751.9 607.8,1753.9 608.1,1755.9 608.4,1757.6" fill="none" stroke="#0000ff" stroke-width="12.5" stroke-linejoin="round" stroke-dasharray="10.56 9" stroke-dashoffset="15.06"/>
<polyline points="608.4,1757.8 608.7,1759.8 609.0,1761.8 609.3,1763.8 609.6,1765.8 610.0,1767.7 610.3,1769.7 610.6,1771.7 611.0,1773.6 611.3,1775.6 611.7,1777.6 612.0,1779.5 612.4,1781.5 612.9,1783.5 613.3,1785.4 613.8,1787.4 614.3,1789.3 614.9,1791.2 615.4,1793.1 616.0,1795.0 616.7,1796.9 617.3,1798.8 617.8,1800.7 618.4,1802.7 618.9,1804.6 619.4,1806.5 619.8,1808.5 620.2,1810.5 620.6,1812.4 620.9,1814.4 621.2,1816.4 621.5,1818.3 621.9,1820.3 622.2,1822.3 622.5,1824.3 622.8,1826.2 623.2,1828.2 623.5,1830.2 623.9,1832.1 624.3,1834.1 624.6,1836.1 625.0,1838.0 625.4,1840.0 625.8,1842.0 626.2,1843.9 626.6,1845.9 627.0,1847.9 627.3,1849.8 627.7,1851.8 628.1,1853.7 628.5,1855.7 628.9,1857.7 629.2,1859.6 629.6,1861.6 630.0,1863.6 630.3,1865.5 630.7,1867.5 631.0,1869.5 631.4,1871.4 631.7,1873.4 632.0,1875.4 632.3,1877.4 632.7,1879.3 633.0,1881.3 633.3,1883.3 633.6,1885.3 633.9,1887.2 634.2,1889.2 634.6,1891.2 634.9,1893.2 635.2,1895.1 635.5,1897.1 635.8,1899.1 636.1,1901.1 636.5,1903.0 636.8,1905.0 637.1,1907.0 637.5,1909.0 637.8,1910.9 638.1,1912.9 638.4,1914.9 638.8,1916.8 639.1,1918.8 639.4,1920.8 639.8,1922.8 640.2,1924.7 640.5,1926.7 640.9,1928.7 641.3,1930.6 641.6,1932.6 642.0,1934.5 642.4,1936.5 642.9,1938.5 643.3,1940.4 643.7,1942.4 644.2,1944.3 644.7,1946.2 645.2,1948.2 645.7,1950.1 646.2,1952.1 646.7,1954.0 647.3,1955.9 647.8,1957.8 648.4,1959.7 649.0,1961.6 649.6,1963.6 650.2,1965.5 650.9,1967.3 651.5,1969.2 652.2,1971.1 652.9,1973.0 653.6,1974.9 654.3,1976.7 655.0,1978.6 655.8,1980.5 656.6,1982.3 657.4,1984.1 658.2,1985.9 659.0,1987.8 659.9,1989.6 660.8,1991.4 661.7,1993.2 662.6,1994.9 663.5,1996.7 664.4,1998.5 665.4,2000.3 666.3,2002.0 667.3,2003.8 668.2,2005.5 669.2,2007.3 670.1,2009.1 671.0,2010.8 672.0,2012.6 672.9,2014.4 673.9,2016.1 674.8,2017.9 675.7,2019.7 676.7,2021.4 677.6,2023.2 678.6,2024.9 679.5,2026.7 680.5,2028.5 681.4,2030.2 682.4,2032.0 683.4,2033.7 684.3,2035.5 685.3,2037.2 686.3,2039.0 687.3,2040.7 688.3,2042.4 689.3,2044.1 690.3,2045.9 691.3,2047.6 692.4,2049.3 693.4,2051.0 694.4,2052.7 695.5,2054.4 696.5,2056.1 697.6,2057.8 698.7,2059.5 699.7,2061.2 700.8,2062.9 702.0,2064.5 703.1,2066.2 704.2,2067.8 705.4,2069.4 706.6,2071.1 707.8,2072.7 709.0,2074.2 710.3,2075.8 711.6,2077.3 712.9,2078.8 714.2,2080.3 715.6,2081.8 717.0,2083.2 718.4,2084.6 719.9,2086.0 721.4,2087.3 722.9,2088.6 724.4,2089.9 726.0,2091.1 727.6,2092.4 729.1,2093.6 730.8,2094.7 732.4,2095.9 734.1,2097.0 735.8,2098.1 737.5,2099.1 739.1,2100.2 740.8,2101.3 742.5,2102.4 744.1,2103.5 745.8,2104.7 747.4,2105.9 749.0,2107.1 750.6,2108.2 752.3,2109.3 754.0,2110.4 755.7,2111.4 757.4,2112.4 759.2,2113.3 761.1,2114.1 762.9,2114.9 764.8,2115.6 766.7,2116.2 768.6,2116.9 770.5,2117.5 772.4,2118.0 774.3,2118.5 776.3,2119.1 778.2,2119.5 780.1,2120.0 782.1,2120.4 784.0,2120.9 786.0,2121.3 788.0,2121.7 789.9,2122.0 791.9,2122.4 793.9,2122.7 795.9,2123.0 797.8,2123.3 799.8,2123.6 801.8,2123.9 803.8,2124.2 805.7,2124.5 807.7,2124.8 809.7,2125.0 811.7,2125.3 813.7,2125.5 815.7,2125.7 817.7,2125.9 819.6,2126.1 821.6,2126.3 823.6,2126.5 825.6,2126.7 827.6,2126.8 829.6,2127.0 831.6,2127.1 833.6,2127.2 835.6,2127.4 837.6,2127.5 839.6,2127.6 841.6,2127.7 843.6,2127.8 845.6,2127.9 847.6,2128.0 849.6,2128.1 851.6,2128.1 853.6,2128.2 855.6,2128.3 857.6,2128.3 859.6,2128.4 861.6,2128.4 863.6,2128.5 865.6,2128.5 867.6,2128.5 869.6,2128.5 871.6,2128.5 873.6,2128.4 875.6,2128.4 877.6,2128.3 879.6,2128.2 881.6,2128.0 883.6,2127.9 885.5,2127.6 887.5,2127.4 889.5,2127.1 891.5,2126.7 893.4,2126.2 895.3,2125.6 897.2,2125.0 899.1,2124.4 901.0,2123.8 902.9,2123.2 904.8,2122.6 906.8,2122.0 908.7,2121.4 910.6,2120.8 912.5,2120.3 914.4,2119.7 916.4,2119.2 918.3,2118.7 920.2,2118.3 922.2,2117.9 924.2,2117.5 926.2,2117.3 928.1,2117.1 930.1,2116.9 932.1,2116.7 934.1,2116.5 936.1,2116.4 938.1,2116.3 940.1,2116.2 942.1,2116.1 944.1,2116.1 946.1,2116.0 948.1,2116.0 950.1,2116.0 952.1,2116.0 954.1,2116.0 956.1,2116.0 958.1,2116.0 960.1,2116.0 962.1,2116.0 964.1,2116.1 966.1,2116.1 968.1,2116.2 970.1,2116.2 972.1,2116.3 974.1,2116.4 976.1,2116.5 978.1,2116.6 980.1,2116.8 982.1,2116.9 984.1,2117.1 986.1,2117.4 988.0,2117.6 990.0,2117.9 992.0,2118.3 994.0,2118.6 995.9,2118.9 997.9,2119.3 999.9,2119.7 1001.8,2120.0 1003.8,2120.4 1005.8,2120.7 1007.8,2121.0 1009.7,2121.3 1011.7,2121.5 1013.7,2121.7 1015.7,2121.8 1017.7,2122.0 1019.7,2122.0 1021.7,2122.0 1023.7,2121.9 1025.7,2121.8 1027.7,2121.6 1028.9,2121.5" fill="none" stroke="#0000ff" stroke-width="12.5" stroke-linejoin="round" stroke-dasharray="10.39 8.85" stroke-dashoffset="14.82"/>
<polyline points="1029.2,2121.5 1031.2,2121.3 1033.2,2121.2 1035.2,2121.0 1037.2,2121.0 1039.2,2120.9 1041.2,2120.9 1043.2,2120.9 1045.2,2120.9 1047.2,2121.0 1049.2,2121.1 1051.2,2121.2 1053.2,2121.2 1055.2,2121.3 1057.2,2121.4 1059.2,2121.5 1061.2,2121.6 1063.2,2121.7 1065.2,2121.8 1067.1,2121.9 1069.1,2122.0 1071.1,2122.1 1073.1,2122.2 1075.1,2122.4 1077.1,2122.6 1079.1,2122.8 1081.1,2123.1 1083.1,2123.4 1085.0,2123.8 1087.0,2124.2 1088.9,2124.6 1090.9,2125.0 1092.9,2125.4 1094.8,2125.8 1096.8,2126.2 1098.7,2126.6 1100.7,2127.0 1102.7,2127.4 1104.6,2127.8 1106.6,2128.1 1108.6,2128.5 1110.5,2128.8 1112.5,2129.2 1114.5,2129.6 1116.4,2129.9 1118.4,2130.3 1120.4,2130.7 1122.3,2131.1 1124.3,2131.4 1126.2,2131.8 1128.2,2132.2 1130.2,2132.6 1132.1,2132.9 1134.1,2133.3 1136.1,2133.7 1138.0,2134.0 1140.0,2134.4 1142.0,2134.7 1143.9,2135.1 1145.9,2135.4 1147.9,2135.7 1149.9,2136.0 1151.9,2136.3 1153.8,2136.5 1155.8,2136.7 1157.8,2136.9 1159.8,2137.1 1161.8,2137.3 1163.8,2137.5 1165.8,2137.7 1167.8,2137.8 1169.8,2137.9 1171.8,2138.0 1173.8,2138.1 1175.8,2138.1 1177.8,2138.2 1179.8,2138.3 1181.8,2138.3 1183.8,2138.4 1185.8,2138.4 1187.8,2138.5 1189.8,2138.5 1191.8,2138.5 1193.8,2138.5 1195.8,2138.6 1197.8,2138.6 1199.8,2138.6 1201.8,2138.6 1203.8,2138.6 1205.8,2138.6 1207.8,2138.6 1209.8,2138.6 1211.8,2138.6 1213.8,2138.6 1215.8,2138.6 1217.8,2138.5 1219.8,2138.5 1221.8,2138.5 1223.8,2138.5 1225.8,2138.4 1227.8,2138.4 1229.8,2138.4 1231.8,2138.3 1233.8,2138.3 1235.8,2138.2 1237.8,2138.2 1239.8,2138.1 1241.8,2138.1 1243.8,2138.0 1245.8,2138.0 1247.8,2137.9 1249.8,2137.9 1251.8,2137.8 1253.8,2137.8 1255.8,2137.7 1257.8,2137.6 1259.8,2137.6 1261.8,2137.5 1263.8,2137.4 1265.8,2137.3 1267.7,2137.2 1269.7,2137.1 1271.7,2136.9 1273.7,2136.8 1275.7,2136.6 1277.7,2136.4 1279.7,2136.3 1281.7,2136.1 1283.7,2135.9 1285.7,2135.8 1287.7,2135.7 1289.7,2135.7 1291.7,2135.6 1293.7,2135.6 1295.7,2135.6 1297.4,2135.5" fill="none" stroke="#0000ff" stroke-width="12.5" stroke-linejoin="round" stroke-dasharray="10.41 8.87" stroke-dashoffset="14.85"/>
<polyline points="1297.7,2135.5 1299.7,2135.5 1301.7,2135.5 1303.7,2135.4 1305.7,2135.4 1307.7,2135.3 1309.7,2135.1 1311.7,2134.9 1313.7,2134.7 1315.6,2134.4 1317.6,2134.2 1319.6,2133.9 1321.6,2133.6 1323.6,2133.3 1325.5,2133.0 1327.5,2132.7 1329.5,2132.5 1331.5,2132.2 1333.5,2132.0 1335.5,2131.8 1337.4,2131.5 1339.4,2131.3 1341.4,2131.0 1343.4,2130.8 1345.4,2130.5 1347.4,2130.2 1349.3,2129.9 1351.3,2129.6 1353.3,2129.3 1355.3,2129.0 1357.2,2128.7 1359.2,2128.3 1361.2,2128.1 1363.2,2127.8 1365.2,2127.5 1367.1,2127.3 1369.1,2127.1 1371.1,2126.8 1373.1,2126.6 1375.1,2126.4 1377.1,2126.3 1379.1,2126.1 1381.1,2125.9 1383.1,2125.7 1385.1,2125.6 1387.1,2125.4 1389.0,2125.3 1391.0,2125.1 1393.0,2125.0 1395.0,2124.9 1397.0,2124.8 1399.0,2124.6 1401.0,2124.6 1403.0,2124.5 1405.0,2124.4 1407.0,2124.4 1409.0,2124.4 1411.0,2124.3 1413.0,2124.3 1415.0,2124.3 1417.0,2124.2 1419.0,2124.2 1421.0,2124.1 1423.0,2124.0 1425.0,2123.9 1427.0,2123.8 1429.0,2123.6 1431.0,2123.4 1433.0,2123.2 1435.0,2123.0 1437.0,2122.7 1438.9,2122.5 1440.9,2122.2 1442.9,2121.9 1444.9,2121.7 1446.9,2121.4 1448.8,2121.1 1450.8,2120.8 1452.8,2120.5 1454.8,2120.2 1456.7,2119.8 1458.7,2119.5 1460.7,2119.2 1462.7,2118.9 1464.6,2118.6 1466.6,2118.2 1468.6,2117.9 1470.6,2117.6 1472.5,2117.3 1474.5,2117.0 1476.5,2116.6 1478.5,2116.3 1480.4,2116.0 1482.4,2115.7 1484.4,2115.4 1486.4,2115.1 1488.3,2114.8 1490.3,2114.5 1492.3,2114.2 1494.3,2113.9 1496.3,2113.6 1498.2,2113.3 1500.2,2113.0 1502.2,2112.7 1504.2,2112.4 1506.1,2112.1 1508.1,2111.8 1510.1,2111.5 1512.1,2111.2 1514.0,2110.8 1516.0,2110.5 1518.0,2110.1 1519.9,2109.6 1521.9,2109.2 1523.8,2108.7 1525.7,2108.2 1527.7,2107.6 1529.6,2107.1 1531.5,2106.6 1533.5,2106.1 1535.4,2105.7 1537.4,2105.2 1539.3,2104.8 1541.3,2104.4 1543.3,2104.1 1545.2,2103.7 1547.2,2103.4 1549.2,2103.0 1551.1,2102.6 1553.1,2102.3 1555.1,2101.9 1557.0,2101.5 1559.0,2101.1 1560.9,2100.7 1562.9,2100.2 1564.8,2099.8 1566.8,2099.3 1568.7,2098.9 1570.7,2098.4 1572.6,2098.0 1574.6,2097.6 1576.5,2097.1 1578.5,2096.7 1580.4,2096.3 1582.4,2095.9 1584.4,2095.5 1586.3,2095.1 1588.3,2094.7 1590.2,2094.3 1592.2,2093.9 1594.1,2093.4 1596.1,2093.0 1598.1,2092.6 1600.0,2092.2 1602.0,2091.7 1603.9,2091.3 1605.9,2090.9 1607.8,2090.4 1609.8,2090.0 1611.7,2089.5 1613.7,2089.0 1615.6,2088.6 1617.5,2088.1 1619.5,2087.6 1621.4,2087.1 1622.4,2086.9" fill="none" stroke="#0000ff" stroke-width="12.5" stroke-linejoin="round" stroke-dasharray="10.46 8.91" stroke-dashoffset="14.91"/>
<polyline points="1622.6,2086.8 1624.6,2086.3 1626.5,2085.9 1628.5,2085.4 1630.4,2084.9 1632.3,2084.4 1634.3,2083.8 1635.6,2083.5" fill="none" stroke="#0000ff" stroke-width="12.5" stroke-linejoin="round" stroke-dasharray="10.46 8.91" stroke-dashoffset="14.91"/>
<polyline points="177.2,1484.0 178.2,1481.1 179.3,1478.3 180.4,1475.5 181.5,1472.7 182.7,1470.0 183.8,1467.2 185.0,1464.4 186.2,1461.6 187.3,1458.9 188.4,1456.1 189.5,1453.2 190.4,1450.4 191.4,1447.6 192.2,1444.7 193.1,1441.8 193.9,1438.9 194.7,1436.0 195.4,1433.1 196.2,1430.2 196.9,1427.2 197.5,1424.3 198.2,1421.4 198.9,1418.4 199.5,1415.5 200.1,1412.5 200.7,1409.6 201.4,1406.6 201.9,1403.7 202.5,1400.7 203.1,1397.8 203.7,1394.8 204.2,1391.9 204.8,1388.9 205.4,1386.0 205.9,1383.0 206.5,1380.1 207.1,1377.1 207.7,1374.2 208.3,1371.2 208.9,1368.3 209.5,1365.3 210.2,1362.4 210.8,1359.5 211.5,1356.5 212.2,1353.6 212.9,1350.7 213.6,1347.7 214.4,1344.8 215.2,1341.9 216.1,1339.1 217.0,1336.2 217.9,1333.4 219.0,1330.5 220.0,1327.7 221.2,1324.9 222.5,1322.1 223.9,1319.4 225.4,1316.9 227.0,1314.4 228.9,1311.9 231.0,1309.6 233.2,1307.6 235.7,1306.0 238.4,1304.9 241.4,1304.0 244.4,1303.5 247.4,1303.4 250.4,1303.7 253.4,1304.2 256.3,1305.0 259.2,1305.9 261.9,1307.1 264.6,1308.5 267.2,1310.0 269.8,1311.5 272.4,1313.1 275.0,1314.7 277.5,1316.3 280.1,1317.9 282.6,1319.5 285.2,1321.1 287.8,1322.6 290.4,1324.1 293.0,1325.5 295.7,1326.9 298.4,1328.3 301.1,1329.5 303.9,1330.7 306.7,1331.8 309.5,1332.8 312.4,1333.8 315.3,1334.7 318.2,1335.5 321.1,1336.2 324.0,1336.8 327.0,1337.4 330.0,1337.9 332.9,1338.3 335.9,1338.7 338.9,1338.9 341.9,1339.0 344.9,1339.0 347.9,1339.0 350.9,1338.8 354.0,1338.6 357.0,1338.2 360.0,1337.7 362.9,1337.2 365.9,1336.7 368.9,1336.6 371.8,1336.9 374.7,1337.6 377.6,1338.5 380.5,1339.5 383.4,1340.4 386.3,1341.1 389.3,1341.7 392.2,1342.3 395.1,1343.1 398.0,1344.0 400.8,1345.3 403.5,1346.8 406.2,1348.4 408.9,1349.9 411.6,1351.2 414.3,1352.0 417.2,1352.3 420.1,1352.1 423.1,1351.7 426.1,1351.1 429.1,1350.6 432.2,1350.4 435.2,1350.3 438.2,1350.4 441.3,1350.5 444.3,1350.5 447.3,1350.5 450.2,1350.3 453.0,1349.6 455.8,1348.4 458.6,1347.1 461.4,1345.8 464.1,1344.4 466.8,1343.1 469.6,1342.1 472.6,1341.7 475.6,1341.5 478.2,1343.4 480.6,1345.5 482.7,1347.7 484.4,1350.1 485.7,1352.8 486.9,1355.7 487.9,1358.7 488.9,1361.7 490.0,1364.7 491.3,1367.5 492.8,1370.2 494.5,1372.8 496.4,1375.3 498.3,1377.7 500.4,1380.1 502.0,1377.4 503.5,1374.7 505.0,1372.0 506.5,1369.3 507.9,1366.6 509.3,1363.8 510.6,1361.1 511.8,1358.2 512.9,1355.4 513.9,1352.5 514.9,1349.6 515.8,1346.6 516.6,1343.7 517.5,1340.7 518.4,1337.8 519.4,1334.8 520.3,1331.9 521.3,1329.0 522.3,1326.1 523.4,1323.2 524.5,1320.3 525.6,1317.5 526.9,1314.5 528.4,1311.7 530.3,1309.4 532.9,1307.8 535.9,1307.0 538.7,1307.8 541.1,1310.1 543.1,1312.5 544.8,1315.1 546.5,1317.7 548.3,1320.1 550.4,1322.3 552.7,1324.4 555.1,1326.3 557.4,1324.4 559.8,1322.6 562.4,1321.0 565.2,1319.6 568.1,1318.8 570.6,1320.1 572.4,1322.6 573.5,1325.4 574.2,1328.3 574.6,1331.4 575.0,1334.4 575.4,1337.4 575.9,1340.4 576.4,1343.3 577.0,1346.3 577.5,1349.2 578.1,1352.2 578.6,1355.2 579.1,1358.1 579.5,1361.1 579.9,1364.1 580.3,1367.0 580.6,1370.0 581.0,1373.0 581.3,1376.0 581.6,1379.0 581.9,1382.0 582.1,1385.0 582.4,1388.0 582.7,1391.0 583.0,1394.0 583.2,1396.9 583.5,1399.9 583.8,1402.9 584.0,1405.9 584.3,1408.9 584.5,1411.9 584.8,1414.9 585.1,1417.9 585.3,1420.9 585.6,1423.9 585.8,1426.9 586.1,1429.9 586.3,1432.9 586.6,1435.8 586.9,1438.8 587.1,1441.8 587.4,1444.8 587.6,1447.8 587.9,1450.8 588.1,1453.8 588.4,1456.8 588.7,1459.8 588.9,1462.8 589.2,1465.8 589.5,1468.8 589.8,1471.8 590.1,1474.7 590.4,1477.7 590.7,1480.7 591.0,1483.7 591.3,1486.7 591.6,1489.7 591.9,1492.7 592.2,1495.7 592.5,1498.7 592.8,1501.6 593.1,1504.6 593.4,1507.6 593.7,1510.6 593.9,1513.6 594.2,1516.6 594.5,1519.6 594.7,1522.6 595.0,1525.6 595.3,1528.6 595.5,1531.6 595.8,1534.6 596.0,1537.5 596.3,1540.5 596.5,1543.5 596.8,1546.5 597.0,1549.5 597.2,1552.5 597.5,1555.5 597.7,1558.5 598.0,1561.5 598.2,1564.5 598.4,1567.5 598.7,1570.5 598.9,1573.5 599.1,1576.5 599.4,1579.5 599.6,1582.5 599.9,1585.5 600.1,1588.4 600.3,1591.4 600.6,1594.4 600.8,1597.4 601.1,1600.4 601.3,1603.4 601.6,1606.4 601.9,1609.4 602.1,1612.4 602.4,1615.4 602.7,1618.4 602.9,1621.4 603.2,1624.4 603.5,1627.4 603.8,1630.3 604.0,1633.3 604.3,1636.3 604.6,1639.3 604.9,1642.3 605.1,1645.3 605.4,1648.3 605.7,1651.3 606.0,1654.3 606.2,1657.3 606.5,1660.3 606.8,1663.2 607.1,1666.2 607.3,1669.2 607.6,1672.2 607.9,1675.2 608.1,1678.2 608.4,1681.2 608.6,1684.2 608.9,1687.2 609.2,1690.2 609.4,1693.2 609.7,1696.2 610.0,1699.2 610.3,1702.1 610.5,1705.1 610.8,1708.1 611.1,1711.1 611.4,1714.1 611.7,1717.1 612.0,1720.1 612.3,1723.1 612.7,1726.1 613.0,1729.0 613.3,1732.0 613.7,1735.0 614.0,1738.0 614.4,1741.0 614.7,1744.0 615.1,1746.9 615.5,1749.9 615.8,1752.9 616.2,1755.9 616.6,1758.9 617.0,1761.8 617.4,1764.8 617.7,1767.8 618.1,1770.8 618.5,1773.8 618.9,1776.7 619.3,1779.7 619.7,1782.7 620.1,1785.7 620.5,1788.7 620.9,1791.6 621.3,1794.6 621.7,1797.6 622.1,1800.6 622.5,1803.5 622.9,1806.5 623.3,1809.5 623.8,1812.5 624.2,1815.4 624.6,1818.4 625.0,1821.4 625.5,1824.3 625.9,1827.3 626.3,1830.3 626.8,1833.3 627.2,1836.2 627.7,1839.2 628.1,1842.2 628.6,1845.1 629.0,1848.1 629.5,1851.1 629.9,1854.1 630.4,1857.0 630.9,1860.0 631.3,1863.0 631.8,1865.9 632.3,1868.9 632.8,1871.9 633.3,1874.8 633.8,1877.8 634.3,1880.8 634.8,1883.7 635.3,1886.7 635.9,1889.6 636.4,1892.6 637.0,1895.5 637.6,1898.5 638.3,1901.4 638.9,1904.3 639.6,1907.2 640.3,1910.2 641.1,1913.1 641.9,1916.0 642.7,1918.8 643.5,1921.7 644.4,1924.6 645.2,1927.5 646.1,1930.4 647.1,1933.2 648.0,1936.1 648.9,1939.0 649.8,1941.8 650.8,1944.7 651.7,1947.5 652.7,1950.4 653.7,1953.2 654.7,1956.1 655.7,1958.9 656.7,1961.7 657.8,1964.5 658.9,1967.3 660.0,1970.1 661.2,1972.9 662.3,1975.7 663.6,1978.4 664.8,1981.1 666.1,1983.8 667.5,1986.4 668.9,1989.1 670.3,1991.7 671.8,1994.4 673.3,1997.0 674.8,1999.6 676.3,2002.2 677.8,2004.8 679.4,2007.4 680.9,2009.9 682.5,2012.5 684.0,2015.1 685.5,2017.7 687.0,2020.3 688.5,2022.9 690.0,2025.6 691.5,2028.2 693.0,2030.8 694.6,2033.4 696.1,2036.0 697.7,2038.5 699.2,2041.1 700.8,2043.6 702.5,2046.1 704.2,2048.6 705.9,2051.1 707.6,2053.5 709.4,2055.9 711.2,2058.3 713.1,2060.6 715.0,2062.9 717.0,2065.2 719.0,2067.5 721.0,2069.7 723.1,2071.9 725.2,2074.0 727.3,2076.2 729.5,2078.3 731.7,2080.3 733.9,2082.3 736.2,2084.3 738.5,2086.2 740.9,2088.0 743.3,2089.8 745.8,2091.5 748.3,2093.1 750.9,2094.7 753.5,2096.3 756.1,2097.7 758.7,2099.2 761.4,2100.6 764.1,2101.9 766.8,2103.2 769.6,2104.4 772.3,2105.6 775.1,2106.7 777.9,2107.8 780.7,2108.9 783.5,2109.9 786.4,2110.9 789.2,2111.9 792.1,2112.8 794.9,2113.8 797.8,2114.7 800.6,2115.6 803.5,2116.5 806.4,2117.4 809.3,2118.2 812.1,2119.1 815.0,2120.0 817.9,2120.9 820.7,2121.8 823.6,2122.6 826.5,2123.5 829.3,2124.4 832.2,2125.3 835.1,2126.2 838.0,2127.0 840.9,2127.8 843.8,2128.6 846.7,2129.4 849.6,2130.2 852.5,2131.0 855.4,2131.7 858.3,2132.4 861.2,2133.1 864.2,2133.7 867.1,2134.3 870.1,2134.9 873.0,2135.5 876.0,2136.0 878.9,2136.5 881.9,2137.0 884.9,2137.5 887.8,2137.9 890.8,2138.3 893.8,2138.6 896.8,2139.0 899.8,2139.3 902.8,2139.6 905.7,2139.9 908.7,2140.2 911.7,2140.4 914.7,2140.7 917.7,2140.9 920.7,2141.1 923.7,2141.3 926.7,2141.5 929.7,2141.6 932.7,2141.8 935.7,2142.0 938.7,2142.1 941.7,2142.3 944.7,2142.4 947.7,2142.5 950.7,2142.7 953.7,2142.8 956.7,2142.9 959.7,2143.0 962.7,2143.1 965.7,2143.2 968.7,2143.3 971.7,2143.3 974.7,2143.4 977.7,2143.5 980.7,2143.5 983.7,2143.6 986.7,2143.7 989.8,2143.7 992.8,2143.8 995.8,2143.9 998.8,2143.9 1001.8,2144.0 1004.8,2144.1 1007.8,2144.1 1010.8,2144.2 1013.8,2144.3 1016.8,2144.3 1019.8,2144.4 1022.8,2144.5 1025.8,2144.6 1028.8,2144.6 1031.8,2144.7 1034.8,2144.8 1037.8,2144.9 1040.8,2144.9 1043.8,2145.0 1046.8,2145.1 1049.8,2145.1 1052.8,2145.2 1055.8,2145.3 1058.8,2145.3 1061.8,2145.4 1064.8,2145.5 1067.8,2145.5 1070.8,2145.6 1073.8,2145.7 1076.8,2145.8 1079.8,2145.8 1082.8,2145.9 1085.9,2146.0 1088.9,2146.0 1091.9,2146.1 1094.9,2146.2 1097.9,2146.2 1100.9,2146.3 1103.9,2146.4 1106.9,2146.4 1109.9,2146.5 1112.9,2146.5 1115.9,2146.6 1118.9,2146.6 1121.9,2146.7 1124.9,2146.7 1127.9,2146.8 1130.9,2146.8 1133.9,2146.8 1136.9,2146.9 1139.9,2146.9 1142.9,2146.9 1145.9,2147.0 1148.9,2147.0 1151.9,2147.0 1154.9,2147.0 1157.9,2147.0 1160.9,2147.0 1163.9,2147.0 1167.0,2147.0 1170.0,2147.0 1173.0,2147.0 1176.0,2147.0 1179.0,2147.0 1182.0,2147.0 1185.0,2147.0 1188.0,2147.0 1191.0,2147.0 1194.0,2146.9 1197.0,2146.9 1200.0,2146.9 1203.0,2146.8 1206.0,2146.7 1209.0,2146.7 1212.0,2146.6 1215.0,2146.5 1218.0,2146.4 1221.0,2146.4 1224.0,2146.3 1227.0,2146.2 1230.0,2146.2 1233.0,2146.1 1236.0,2146.1 1239.0,2146.0 1242.0,2146.0 1245.1,2145.9 1248.1,2145.9 1251.1,2145.8 1254.1,2145.8 1257.1,2145.7 1260.1,2145.6 1263.1,2145.5 1266.1,2145.3 1269.1,2145.1 1272.1,2144.9 1275.1,2144.7 1278.1,2144.4 1281.0,2144.0 1284.0,2143.4 1286.9,2142.9 1289.9,2142.5 1292.9,2142.2 1295.9,2141.9 1298.9,2141.6 1301.9,2141.4 1304.9,2141.2 1307.9,2141.0 1310.9,2140.9 1313.9,2140.8 1316.9,2140.6 1319.9,2140.5 1322.9,2140.4 1325.9,2140.3 1328.9,2140.1 1331.9,2140.0 1334.9,2139.8 1337.9,2139.6 1340.9,2139.4 1343.9,2139.2 1346.9,2139.0 1349.9,2138.7 1352.9,2138.5 1355.9,2138.2 1358.9,2137.9 1361.8,2137.6 1364.8,2137.3 1367.8,2137.0 1370.8,2136.7 1373.8,2136.4 1376.8,2136.1 1379.8,2135.8 1382.8,2135.5 1385.8,2135.2 1388.7,2134.9 1391.7,2134.6 1394.7,2134.3 1397.7,2134.0 1400.7,2133.7 1403.7,2133.4 1406.7,2133.1 1409.7,2132.8 1412.7,2132.5 1415.6,2132.2 1418.6,2131.9 1421.6,2131.6 1424.6,2131.3 1427.6,2131.0 1430.6,2130.7 1433.6,2130.3 1436.6,2130.0 1439.5,2129.7 1442.5,2129.4 1445.5,2129.1 1448.5,2128.8 1451.5,2128.5 1454.5,2128.1 1457.5,2127.8 1460.5,2127.5 1463.4,2127.1 1466.4,2126.8 1469.4,2126.5 1472.4,2126.1 1475.4,2125.7 1478.4,2125.4 1481.3,2125.0 1484.3,2124.6 1487.3,2124.2 1490.3,2123.8 1493.2,2123.4 1496.2,2123.0 1499.2,2122.6 1502.2,2122.1 1505.1,2121.7 1508.1,2121.3 1511.1,2120.8 1514.1,2120.4 1517.0,2119.9 1520.0,2119.5 1523.0,2119.0 1525.9,2118.6 1528.9,2118.1 1531.9,2117.7 1534.8,2117.2 1537.8,2116.7 1540.8,2116.2 1543.7,2115.7 1546.7,2115.3 1549.7,2114.8 1552.6,2114.3 1555.6,2113.8 1558.6,2113.3 1561.5,2112.8 1564.5,2112.3 1567.4,2111.8 1570.4,2111.3 1573.4,2110.8 1576.3,2110.3 1579.3,2109.8 1582.3,2109.4 1585.2,2108.9 1588.2,2108.4 1591.1,2107.9 1594.1,2107.4 1597.1,2106.9 1600.0,2106.4 1603.0,2105.9 1606.0,2105.4 1608.9,2104.9 1611.9,2104.4 1614.8,2103.9 1617.8,2103.4 1620.8,2102.9 1623.7,2102.4 1626.7,2102.0 1629.7,2101.5 1632.6,2101.0 1635.6,2100.5" fill="none" stroke="#ff0000" stroke-width="12.5" stroke-linejoin="round"/>
<polyline points="178.4,1410.0 178.5,1412.0 178.7,1414.0 178.8,1416.0 179.0,1418.0 179.2,1420.0 179.4,1422.0 179.6,1423.9 179.8,1425.9 180.0,1427.9 180.3,1429.9 180.5,1431.9 180.8,1433.9 181.0,1435.9 181.3,1437.8 181.6,1439.8 182.0,1441.8 182.3,1443.8 182.6,1445.7 183.0,1447.7 183.5,1449.6 183.9,1451.6 184.3,1453.5 184.8,1455.5 185.3,1457.4 185.8,1459.4 186.3,1461.3 186.8,1463.2 187.3,1465.2 187.8,1467.1 188.4,1469.0 188.9,1471.0 189.5,1472.9 190.1,1474.8 190.7,1476.7 191.5,1478.5 192.3,1480.3 193.4,1482.0 194.8,1483.3 196.8,1483.5 198.4,1482.3 199.8,1480.9 201.0,1479.3 202.2,1477.7 203.3,1476.1 204.5,1474.4 205.5,1472.7 206.6,1471.0 207.7,1469.3 208.7,1467.6 209.8,1465.9 210.8,1464.2 211.8,1462.5 212.8,1460.7 213.7,1459.0 214.6,1457.2 215.5,1455.4 216.4,1453.6 217.2,1451.8 218.0,1449.9 218.8,1448.1 219.5,1446.2 220.3,1444.4 220.9,1442.5 221.6,1440.6 222.3,1438.7 222.9,1436.8 223.5,1434.9 224.2,1433.0 224.8,1431.1 225.4,1429.2 226.0,1427.3 226.6,1425.4 227.2,1423.5 227.8,1421.6 228.4,1419.7 229.0,1417.8 229.6,1415.9 230.2,1414.0 230.9,1412.1 231.6,1410.2 232.3,1408.4 233.1,1406.5 233.9,1404.7 234.9,1402.9 235.8,1401.2 236.8,1399.4 237.9,1397.7 238.9,1396.0 240.1,1394.4 241.2,1392.8 242.4,1391.1 243.6,1389.6 244.9,1388.0 246.1,1386.4 247.4,1384.9 248.8,1383.4 250.2,1382.0 251.7,1380.7 253.3,1379.6 255.0,1378.5 256.8,1377.6 258.6,1376.8 260.5,1376.1 262.4,1375.6 264.4,1375.3 266.4,1375.3 268.4,1375.6 270.3,1376.2 272.1,1377.0 273.9,1377.9 275.6,1379.0 277.3,1380.1 278.9,1381.2 280.4,1382.5 281.9,1383.8 283.3,1385.2 284.7,1386.7 286.0,1388.2 287.4,1389.7 288.6,1391.2 289.9,1392.8 291.2,1394.3 292.4,1395.9 293.6,1397.5 294.7,1399.1 295.9,1400.8 297.0,1402.4 298.2,1404.1 299.3,1405.7 300.4,1407.3 301.6,1409.0 302.7,1410.6 303.9,1412.3 305.1,1413.9 306.3,1415.5 307.4,1417.1 308.6,1418.7 309.8,1420.3 310.9,1422.0 312.0,1423.6 313.2,1425.3 314.2,1427.0 315.3,1428.7 316.4,1430.4 317.4,1432.1 318.4,1433.8 319.5,1435.5 320.5,1437.2 321.6,1438.9 322.7,1440.6 323.8,1442.2 324.9,1443.9 326.0,1445.6 327.1,1447.2 328.2,1448.9 329.4,1450.5 330.5,1452.2 331.7,1453.8 332.8,1455.4 334.0,1457.0 335.2,1458.7 336.4,1460.3 337.6,1461.8 338.9,1463.4 340.1,1465.0 341.4,1466.5 342.6,1468.1 343.9,1469.6 345.2,1471.1 346.6,1472.6 347.9,1474.1 349.3,1475.6 350.6,1477.0 352.0,1478.5 353.4,1479.9 354.8,1481.4 356.2,1482.8 357.6,1484.2 359.1,1485.6 360.5,1487.0 362.0,1488.3 363.4,1489.7 364.9,1491.0 366.4,1492.4 367.9,1493.7 369.4,1495.0 370.9,1496.3 372.5,1497.6 374.0,1498.9 375.5,1500.2 377.1,1501.4 378.6,1502.7 380.2,1503.9 381.8,1505.1 383.4,1506.3 385.1,1507.4 386.7,1508.5 388.4,1509.5 390.2,1510.5 392.0,1511.5 393.8,1512.3 395.6,1513.2 397.4,1514.0 399.3,1514.7 401.2,1515.3 403.1,1515.8 405.1,1516.1 407.1,1516.2 409.1,1515.9 411.0,1515.5 412.9,1514.9 414.7,1514.1 416.5,1513.2 418.2,1512.1 419.7,1510.7 421.0,1509.3 422.1,1507.6 423.1,1505.8 423.9,1504.0 424.6,1502.2 425.2,1500.3 425.8,1498.4 426.4,1496.4 427.0,1494.5 427.5,1492.6 428.1,1490.7 428.7,1488.8 429.2,1486.8 429.8,1484.9 430.3,1483.0 430.9,1481.1 431.4,1479.1 431.9,1477.2 432.5,1475.3 433.1,1473.4 433.6,1471.5 434.2,1469.5 434.8,1467.6 435.4,1465.7 436.0,1463.8 436.7,1461.9 437.4,1460.1 438.1,1458.2 438.8,1456.3 439.6,1454.5 440.4,1452.7 441.3,1450.9 442.1,1449.1 443.0,1447.3 443.9,1445.5 444.7,1443.6 445.4,1441.8 446.1,1439.9 446.7,1438.0 447.2,1436.0 447.7,1434.1 448.2,1432.2 448.7,1430.2 449.1,1428.3 449.6,1426.3 450.0,1424.4 450.5,1422.4 451.1,1420.5 451.6,1418.6 452.2,1416.7 452.9,1414.8 453.7,1413.0 454.4,1411.1 455.3,1409.3 456.1,1407.5 457.0,1405.7 457.9,1403.9 458.2,1403.2" fill="none" stroke="#00ff00" stroke-width="12.5" stroke-linejoin="round" stroke-dasharray="40.31 8.88 20.41 8.88" stroke-dashoffset="0.00"/>
<polyline points="458.3,1403.0 459.2,1401.2 460.1,1399.4 460.9,1397.6 461.8,1395.8 462.6,1394.0 463.5,1392.2 464.3,1390.4 465.2,1388.5 466.0,1386.7 466.9,1384.9 467.7,1383.1 468.5,1381.2 469.3,1379.4 470.0,1377.6 470.8,1375.7 471.6,1373.9 472.3,1372.0 473.1,1370.2 473.9,1368.3 474.7,1366.5 475.4,1364.6 476.2,1362.8 477.0,1361.0 477.8,1359.2 478.7,1357.3 479.5,1355.5 480.2,1353.7 481.0,1351.8 481.7,1349.9 482.4,1348.1 483.1,1346.2 483.7,1344.3 484.2,1342.3 484.7,1340.4 485.2,1338.5 485.7,1336.5 486.2,1334.6 486.6,1332.6 486.7,1332.1" fill="none" stroke="#00ff00" stroke-width="12.5" stroke-linejoin="round" stroke-dasharray="39.42 8.68 19.96 8.68" stroke-dashoffset="72.41"/>
<polyline points="486.8,1331.9 487.2,1329.9 487.6,1328.0 488.0,1326.0 488.4,1324.1 488.8,1322.1 489.2,1320.1 489.6,1318.2 490.0,1316.2 490.4,1314.3 490.8,1312.3 491.2,1310.3 491.6,1308.4 492.0,1306.4 492.5,1304.5 492.9,1302.5 493.4,1300.6 493.9,1298.6 494.3,1296.7 494.8,1294.8 495.4,1292.8 495.9,1290.9 496.5,1289.0 497.0,1287.1 497.6,1285.2 498.3,1283.3 498.9,1281.4 499.6,1279.5 500.3,1277.6 501.1,1275.8 502.1,1274.0 503.1,1272.4 504.5,1270.9 505.9,1269.5 507.5,1268.6 509.0,1269.9 510.3,1271.3 511.7,1272.8 512.3,1273.6" fill="none" stroke="#00ff00" stroke-width="12.5" stroke-linejoin="round" stroke-dasharray="38.65 8.51 19.57 8.51" stroke-dashoffset="70.99"/>
<polyline points="512.4,1273.8 513.5,1275.5 514.5,1277.2 515.4,1279.0 516.1,1280.9 516.8,1282.8 517.4,1284.7 517.9,1286.6 518.4,1288.5 518.9,1290.5 519.4,1292.4 519.8,1294.4 520.3,1296.3 520.9,1298.2 521.4,1300.2 521.9,1302.1 522.5,1304.0 523.0,1306.0 523.5,1307.9 524.0,1309.8 524.5,1311.8 524.9,1313.7 525.3,1315.7 525.7,1317.6 526.1,1319.6 526.5,1321.6 526.8,1323.5 527.1,1325.5 527.4,1327.5 527.8,1329.5 528.1,1331.4 528.4,1333.4 528.8,1335.4 529.1,1337.3 529.5,1339.3 529.9,1341.3 530.3,1343.2 530.7,1345.2 531.1,1347.1 531.5,1349.1 531.6,1349.6" fill="none" stroke="#00ff00" stroke-width="12.5" stroke-linejoin="round" stroke-dasharray="40.45 8.91 20.48 8.91" stroke-dashoffset="74.30"/>
<polyline points="531.6,1349.8 532.0,1351.8 532.4,1353.8 532.8,1355.7 533.2,1357.7 533.6,1359.6 534.0,1361.6 534.4,1363.6 534.8,1365.5 535.2,1367.5 535.6,1369.4 536.0,1371.4 536.5,1373.4 536.9,1375.3 537.4,1377.2 537.9,1379.2 538.5,1381.1 539.0,1383.0 539.6,1384.9 540.1,1386.9 540.7,1388.8 541.3,1390.7 541.9,1392.6 542.5,1394.5 543.1,1396.4 543.6,1398.3 544.2,1400.2 544.9,1402.1 545.5,1404.0 546.2,1405.9 546.9,1407.8 547.7,1409.6 548.5,1411.5 549.4,1413.3 550.3,1415.0 551.4,1416.7 552.6,1418.3 553.9,1419.8 555.2,1421.3 556.9,1422.4 558.7,1422.7 560.5,1421.9 561.8,1420.5 562.1,1420.1" fill="none" stroke="#00ff00" stroke-width="12.5" stroke-linejoin="round" stroke-dasharray="43.53 9.59 22.04 9.59" stroke-dashoffset="79.96"/>
<polyline points="562.3,1419.9 563.3,1418.2 564.4,1416.5 565.5,1414.8 566.6,1413.2 567.8,1411.5 569.1,1410.0 570.4,1408.5 571.9,1407.2 573.8,1406.6 575.5,1407.1 577.1,1408.4 578.3,1409.9 579.4,1411.6 580.4,1413.3 581.2,1415.2 581.9,1417.0 582.5,1419.0 583.0,1420.9 583.4,1422.8 583.8,1424.8 584.2,1426.8 584.6,1428.7 584.9,1430.7 585.2,1432.7 585.5,1434.7 585.8,1436.6 586.1,1438.6 586.4,1440.6 586.7,1442.6 586.9,1444.6 587.2,1446.5 587.4,1448.5 587.6,1450.5 587.9,1452.5 588.1,1454.5 588.3,1456.5 588.5,1458.5 588.6,1459.7" fill="none" stroke="#00ff00" stroke-width="12.5" stroke-linejoin="round" stroke-dasharray="38.78 8.54 19.64 8.54" stroke-dashoffset="71.23"/>
<polyline points="588.6,1460.0 588.8,1462.0 589.0,1463.9 589.2,1465.9 589.4,1467.9 589.6,1469.9 589.8,1471.9 589.9,1473.9 590.1,1475.9 590.3,1477.9 590.5,1479.9 590.6,1481.9 590.8,1483.9 591.0,1485.9 591.2,1487.8 591.4,1489.8 591.6,1491.8 591.7,1493.8 591.9,1495.8 592.1,1497.8 592.3,1499.8 592.5,1501.8 592.6,1503.8 592.8,1505.8 593.0,1507.8 593.2,1509.8 593.4,1511.7 593.5,1513.7 593.7,1515.7 593.9,1517.7 594.1,1519.7 594.3,1521.7 594.5,1523.7 594.6,1525.7 594.8,1527.7 595.0,1529.7 595.2,1531.7 595.4,1533.7 595.6,1535.6 595.7,1537.4" fill="none" stroke="#00ff00" stroke-width="12.5" stroke-linejoin="round" stroke-dasharray="40.07 8.82 20.29 8.82" stroke-dashoffset="73.59"/>
<polyline points="595.7,1537.6 595.9,1539.6 596.1,1541.6 596.3,1543.6 596.5,1545.6 596.7,1547.6 596.9,1549.6 597.1,1551.6 597.3,1553.6 597.4,1555.6 597.6,1557.5 597.8,1559.5 598.0,1561.5 598.2,1563.5 598.4,1565.5 598.6,1567.5 598.8,1569.5 599.0,1571.5 599.2,1573.5 599.4,1575.5 599.6,1577.4 599.8,1579.4 600.0,1581.4 600.2,1583.4 600.4,1585.4 600.6,1587.4 600.8,1589.4 601.1,1591.4 601.3,1593.4 601.5,1595.4 601.7,1597.3 601.9,1599.3 602.1,1601.3 602.3,1603.3 602.6,1605.3 602.8,1607.3 603.0,1609.3 603.2,1611.3 603.5,1613.2 603.7,1615.2 603.8,1616.0" fill="none" stroke="#00ff00" stroke-width="12.5" stroke-linejoin="round" stroke-dasharray="40.58 8.94 20.55 8.94" stroke-dashoffset="74.53"/>
<polyline points="603.8,1616.2 604.0,1618.2 604.3,1620.2 604.5,1622.2 604.8,1624.2 605.0,1626.1 605.3,1628.1 605.5,1630.1 605.8,1632.1 606.0,1634.1 606.3,1636.1 606.6,1638.0 606.9,1640.0 607.1,1642.0 607.4,1644.0 607.7,1646.0 608.0,1647.9 608.3,1649.9 608.6,1651.9 608.9,1653.9 609.3,1655.8 609.6,1657.8 609.9,1659.8 610.2,1661.8 610.6,1663.7 610.9,1665.7 611.2,1667.7 611.6,1669.7 611.9,1671.6 612.3,1673.6 612.6,1675.6 612.9,1677.5 613.3,1679.5 613.6,1681.5 614.0,1683.4 614.3,1685.4 614.6,1687.4 615.0,1689.4 615.3,1691.3 615.5,1692.6" fill="none" stroke="#00ff00" stroke-width="12.5" stroke-linejoin="round" stroke-dasharray="39.81 8.77 20.16 8.77" stroke-dashoffset="73.12"/>
<polyline points="615.6,1692.8 615.9,1694.8 616.2,1696.8 616.6,1698.7 616.9,1700.7 617.2,1702.7 617.5,1704.6 617.8,1706.6 618.1,1708.6 618.5,1710.6 618.7,1712.6 619.0,1714.5 619.3,1716.5 619.6,1718.5 619.9,1720.5 620.1,1722.5 620.4,1724.4 620.7,1726.4 620.9,1728.4 621.2,1730.4 621.4,1732.4 621.7,1734.4 622.0,1736.3 622.2,1738.3 622.5,1740.3 622.8,1742.3 623.1,1744.3 623.4,1746.2 623.8,1748.2 624.1,1750.2 624.5,1752.1 624.9,1754.1 625.3,1756.1 625.7,1758.0 626.2,1760.0 626.7,1761.9 627.2,1763.8 627.7,1765.8 628.3,1767.7 628.8,1769.6" fill="none" stroke="#00ff00" stroke-width="12.5" stroke-linejoin="round" stroke-dasharray="40.19 8.85 20.35 8.85" stroke-dashoffset="73.82"/>
<polyline points="628.9,1769.8 629.5,1771.7 630.1,1773.7 630.7,1775.6 631.2,1777.5 631.8,1779.4 632.4,1781.3 633.0,1783.2 633.6,1785.1 634.2,1787.1 634.7,1789.0 635.3,1790.9 635.9,1792.8 636.5,1794.7 637.1,1796.6 637.6,1798.5 638.2,1800.5 638.7,1802.4 639.2,1804.3 639.8,1806.2 640.2,1808.2 640.7,1810.1 641.2,1812.1 641.6,1814.0 642.0,1816.0 642.4,1817.9 642.8,1819.9 643.2,1821.9 643.6,1823.8 644.0,1825.8 644.4,1827.8 644.7,1829.7 645.2,1831.7 645.6,1833.6 646.0,1835.6 646.4,1837.5 646.9,1839.5 647.4,1841.4 647.9,1843.4 648.4,1845.3 648.9,1847.2 649.0,1847.5" fill="none" stroke="#00ff00" stroke-width="12.5" stroke-linejoin="round" stroke-dasharray="41.35 9.11 20.94 9.11" stroke-dashoffset="75.95"/>
<polyline points="649.1,1847.7 649.6,1849.6 650.2,1851.5 650.8,1853.5 651.4,1855.4 652.0,1857.3 652.6,1859.2 653.2,1861.1 653.9,1863.0 654.5,1864.9 655.2,1866.7 655.8,1868.6 656.5,1870.5 657.2,1872.4 657.9,1874.3 658.5,1876.2 659.2,1878.0 660.0,1879.9 660.7,1881.8 661.4,1883.6 662.1,1885.5 662.9,1887.4 663.6,1889.2 664.3,1891.1 665.1,1892.9 665.8,1894.8 666.5,1896.7 667.2,1898.5 667.9,1900.4 668.7,1902.3 669.4,1904.1 670.0,1906.0 670.7,1907.9 671.4,1909.8 672.1,1911.7 672.8,1913.5 673.4,1915.4 674.1,1917.3 674.8,1919.2 675.4,1921.1 675.5,1921.3" fill="none" stroke="#00ff00" stroke-width="12.5" stroke-linejoin="round" stroke-dasharray="40.32 8.88 20.42 8.88" stroke-dashoffset="74.06"/>
<polyline points="675.6,1921.6 676.3,1923.4 676.9,1925.3 677.6,1927.2 678.3,1929.1 679.0,1931.0 679.7,1932.8 680.5,1934.7 681.2,1936.5 681.9,1938.4 682.7,1940.2 683.5,1942.1 684.3,1943.9 685.1,1945.8 685.9,1947.6 686.8,1949.4 687.6,1951.2 688.5,1953.0 689.4,1954.8 690.3,1956.6 691.2,1958.4 692.1,1960.1 693.0,1961.9 693.9,1963.7 694.9,1965.5 695.8,1967.2 696.7,1969.0 697.7,1970.8 698.6,1972.5 699.6,1974.3 700.5,1976.1 701.4,1977.8 702.4,1979.6 703.3,1981.4 704.3,1983.1 705.2,1984.9 706.1,1986.6 707.1,1988.4 708.1,1990.2 709.0,1991.9 709.2,1992.1" fill="none" stroke="#00ff00" stroke-width="12.5" stroke-linejoin="round" stroke-dasharray="40.32 8.88 20.42 8.88" stroke-dashoffset="74.06"/>
<polyline points="709.3,1992.3 710.3,1994.1 711.3,1995.8 712.3,1997.5 713.3,1999.2 714.4,2000.9 715.5,2002.6 716.6,2004.3 717.7,2005.9 718.9,2007.5 720.1,2009.2 721.3,2010.7 722.5,2012.3 723.8,2013.8 725.1,2015.4 726.4,2016.9 727.8,2018.4 729.1,2019.8 730.5,2021.3 731.9,2022.7 733.3,2024.1 734.8,2025.5 736.2,2026.9 737.7,2028.2 739.2,2029.6 740.7,2030.9 742.2,2032.2 743.8,2033.4 745.3,2034.7 746.9,2036.0 748.4,2037.2 750.0,2038.4 751.6,2039.7 753.2,2040.9 754.8,2042.1 756.4,2043.3 758.0,2044.5 759.6,2045.6 761.3,2046.8 762.9,2047.9" fill="none" stroke="#00ff00" stroke-width="12.5" stroke-linejoin="round" stroke-dasharray="40.19 8.85 20.35 8.85" stroke-dashoffset="73.82"/>
<polyline points="763.1,2048.0 764.8,2049.1 766.5,2050.2 768.2,2051.2 770.0,2052.2 771.7,2053.1 773.5,2054.0 775.3,2054.9 777.1,2055.7 778.9,2056.6 780.8,2057.4 782.6,2058.2 784.5,2058.9 786.3,2059.7 788.1,2060.5 790.0,2061.3 791.8,2062.1 793.6,2062.9 795.4,2063.8 797.2,2064.6 799.0,2065.5 800.8,2066.4 802.6,2067.4 804.3,2068.4 806.1,2069.3 807.8,2070.3 809.5,2071.3 811.3,2072.3 813.0,2073.4 814.7,2074.4 816.4,2075.4 818.1,2076.5 819.8,2077.5 821.5,2078.6 823.2,2079.7 824.9,2080.7 826.6,2081.8 828.2,2082.9 829.9,2084.0 831.2,2084.7" fill="none" stroke="#00ff00" stroke-width="12.5" stroke-linejoin="round" stroke-dasharray="39.94 8.8 20.22 8.8" stroke-dashoffset="73.35"/>
<polyline points="831.4,2084.9 833.1,2085.9 834.9,2086.9 836.6,2087.9 838.3,2088.9 840.1,2089.9 841.8,2090.9 843.6,2091.8 845.3,2092.8 847.1,2093.7 848.9,2094.6 850.7,2095.4 852.6,2096.2 854.4,2097.0 856.3,2097.7 858.1,2098.4 860.0,2099.1 861.9,2099.7 863.8,2100.3 865.8,2100.8 867.7,2101.4 869.6,2101.9 871.6,2102.4 873.5,2102.8 875.5,2103.3 877.4,2103.7 879.4,2104.1 881.3,2104.5 883.3,2104.9 885.3,2105.3 887.2,2105.6 889.2,2106.0 891.2,2106.3 893.1,2106.6 895.1,2106.9 897.1,2107.2 899.1,2107.5 901.1,2107.8 903.0,2108.1 904.5,2108.3" fill="none" stroke="#00ff00" stroke-width="12.5" stroke-linejoin="round" stroke-dasharray="39.94 8.8 20.22 8.8" stroke-dashoffset="73.35"/>
<polyline points="904.8,2108.4 906.7,2108.6 908.7,2108.9 910.7,2109.2 912.7,2109.4 914.7,2109.7 916.7,2109.9 918.6,2110.2 920.6,2110.4 922.6,2110.7 924.6,2110.9 926.6,2111.2 928.6,2111.4 930.6,2111.7 932.5,2111.9 934.5,2112.2 936.5,2112.5 938.5,2112.7 940.5,2113.0 942.4,2113.3 944.4,2113.6 946.4,2114.0 948.4,2114.3 950.3,2114.7 952.3,2115.0 954.2,2115.4 956.2,2115.8 958.2,2116.2 960.1,2116.7 962.1,2117.1 964.0,2117.5 966.0,2117.9 967.9,2118.4 969.9,2118.8 971.8,2119.2 973.8,2119.7 975.7,2120.1 977.7,2120.6 979.6,2121.1 981.6,2121.5 983.5,2122.0 985.5,2122.4 987.4,2122.9 989.4,2123.4 991.3,2123.8 993.3,2124.2 995.2,2124.6 997.2,2125.0 999.1,2125.4 1001.1,2125.8 1003.1,2126.1 1005.1,2126.5 1007.0,2126.8 1009.0,2127.1 1011.0,2127.4 1013.0,2127.7 1014.9,2128.0 1016.9,2128.3 1018.9,2128.5 1020.9,2128.8 1022.9,2129.1 1024.9,2129.3 1026.8,2129.5 1028.8,2129.7 1030.8,2129.9 1032.8,2130.1 1034.8,2130.3 1036.8,2130.5 1038.8,2130.7 1040.8,2130.9 1042.8,2131.0 1044.8,2131.2 1046.8,2131.3 1048.7,2131.5 1050.7,2131.6 1052.7,2131.8 1054.2,2131.9" fill="none" stroke="#00ff00" stroke-width="12.5" stroke-linejoin="round" stroke-dasharray="38.97 8.58 19.73 8.58" stroke-dashoffset="71.58"/>
<polyline points="1054.5,2131.9 1056.5,2132.0 1058.5,2132.1 1060.5,2132.3 1062.5,2132.4 1064.5,2132.5 1066.5,2132.6 1068.5,2132.7 1070.5,2132.8 1072.5,2132.9 1074.5,2133.0 1076.5,2133.1 1078.5,2133.1 1080.4,2133.2 1082.4,2133.3 1084.4,2133.3 1086.4,2133.4 1088.4,2133.5 1090.4,2133.5 1092.4,2133.6 1094.4,2133.6 1096.4,2133.7 1098.4,2133.7 1100.4,2133.8 1102.4,2133.8 1104.4,2133.9 1106.4,2133.9 1108.4,2134.0 1110.4,2134.0 1112.4,2134.1 1114.4,2134.1 1116.4,2134.2 1118.4,2134.2 1120.4,2134.3 1122.4,2134.3 1124.4,2134.4 1126.4,2134.4 1128.4,2134.5 1130.4,2134.5 1131.9,2134.6" fill="none" stroke="#00ff00" stroke-width="12.5" stroke-linejoin="round" stroke-dasharray="39.94 8.8 20.22 8.8" stroke-dashoffset="73.35"/>
<polyline points="1132.2,2134.6 1134.2,2134.6 1136.2,2134.7 1138.2,2134.7 1140.2,2134.8 1142.2,2134.8 1144.2,2134.9 1146.2,2135.0 1148.2,2135.0 1150.2,2135.1 1152.2,2135.2 1154.2,2135.3 1156.2,2135.3 1158.2,2135.4 1160.2,2135.5 1162.2,2135.6 1164.2,2135.7 1166.2,2135.9 1168.2,2136.0 1170.1,2136.1 1172.1,2136.2 1174.1,2136.3 1176.1,2136.5 1178.1,2136.6 1180.1,2136.7 1182.1,2136.8 1184.1,2137.0 1186.1,2137.1 1188.1,2137.2 1190.1,2137.3 1192.1,2137.5 1194.1,2137.6 1196.1,2137.7 1198.1,2137.8 1200.1,2137.9 1202.1,2138.1 1204.1,2138.2 1206.1,2138.3 1208.1,2138.4 1208.3,2138.4" fill="none" stroke="#00ff00" stroke-width="12.5" stroke-linejoin="round" stroke-dasharray="39.29 8.65 19.9 8.65" stroke-dashoffset="72.17"/>
<polyline points="1208.6,2138.4 1210.6,2138.6 1212.6,2138.7 1214.6,2138.8 1216.6,2138.9 1218.6,2139.0 1220.6,2139.1 1222.6,2139.2 1224.6,2139.3 1226.5,2139.4 1228.5,2139.5 1230.5,2139.6 1232.5,2139.7 1234.5,2139.8 1236.5,2139.9 1238.5,2140.0 1240.5,2140.0 1242.5,2140.1 1244.5,2140.2 1246.5,2140.3 1248.5,2140.3 1250.5,2140.4 1252.5,2140.5 1254.5,2140.5 1256.5,2140.6 1258.5,2140.7 1260.5,2140.7 1262.5,2140.7 1264.5,2140.8 1266.5,2140.8 1268.5,2140.8 1270.5,2140.8 1272.5,2140.8 1274.5,2140.8 1276.5,2140.8 1278.5,2140.7 1280.5,2140.7 1282.5,2140.7 1284.5,2140.7 1285.8,2140.7" fill="none" stroke="#00ff00" stroke-width="12.5" stroke-linejoin="round" stroke-dasharray="39.81 8.77 20.16 8.77" stroke-dashoffset="73.12"/>
<polyline points="1286.0,2140.7 1288.0,2140.6 1290.0,2140.6 1292.0,2140.6 1294.0,2140.5 1296.0,2140.5 1298.0,2140.5 1300.0,2140.5 1302.0,2140.5 1304.0,2140.4 1306.0,2140.4 1308.0,2140.4 1310.0,2140.5 1312.0,2140.5 1314.0,2140.5 1316.0,2140.5 1318.0,2140.6 1320.0,2140.7 1322.0,2140.8 1324.0,2140.9 1326.0,2141.0 1328.0,2141.1 1330.0,2141.2 1332.0,2141.4 1334.0,2141.5 1336.0,2141.6 1338.0,2141.7 1340.0,2141.8 1342.0,2141.9 1344.0,2141.9 1346.0,2142.0 1348.0,2142.0 1350.0,2142.0 1352.0,2142.0 1354.0,2141.9 1356.0,2141.9 1358.0,2141.8 1360.0,2141.7 1362.0,2141.6 1362.5,2141.5" fill="none" stroke="#00ff00" stroke-width="12.5" stroke-linejoin="round" stroke-dasharray="39.42 8.68 19.96 8.68" stroke-dashoffset="72.41"/>
<polyline points="1362.7,2141.5 1364.7,2141.4 1366.7,2141.3 1368.7,2141.1 1370.7,2141.0 1372.7,2140.8 1374.7,2140.6 1376.7,2140.5 1378.7,2140.3 1380.7,2140.1 1382.7,2139.9 1384.6,2139.7 1386.6,2139.5 1388.6,2139.3 1390.6,2139.2 1392.6,2138.9 1394.6,2138.7 1396.6,2138.5 1398.6,2138.3 1400.6,2138.1 1402.5,2137.8 1404.5,2137.6 1406.5,2137.4 1408.5,2137.1 1410.5,2136.9 1412.5,2136.7 1414.5,2136.4 1416.5,2136.2 1418.4,2136.0 1420.4,2135.7 1422.4,2135.5 1424.4,2135.3 1426.4,2135.1 1428.4,2134.8 1430.4,2134.6 1432.3,2134.4 1434.3,2134.1 1436.3,2133.9 1438.3,2133.7 1438.8,2133.6" fill="none" stroke="#00ff00" stroke-width="12.5" stroke-linejoin="round" stroke-dasharray="39.42 8.68 19.96 8.68" stroke-dashoffset="72.41"/>
<polyline points="1439.1,2133.6 1441.0,2133.4 1443.0,2133.2 1445.0,2132.9 1447.0,2132.7 1449.0,2132.5 1451.0,2132.3 1453.0,2132.0 1455.0,2131.8 1456.9,2131.6 1458.9,2131.4 1460.9,2131.2 1462.9,2131.0 1464.9,2130.7 1466.9,2130.5 1468.9,2130.3 1470.9,2130.1 1472.9,2129.9 1474.8,2129.7 1476.8,2129.5 1478.8,2129.3 1480.8,2129.0 1482.8,2128.8 1484.8,2128.6 1486.8,2128.4 1488.8,2128.2 1490.7,2128.0 1492.7,2127.8 1494.7,2127.6 1496.7,2127.3 1498.7,2127.1 1500.7,2126.9 1502.7,2126.7 1504.7,2126.5 1506.7,2126.2 1508.6,2126.0 1510.6,2125.8 1512.6,2125.6 1514.6,2125.3 1516.6,2125.1" fill="none" stroke="#00ff00" stroke-width="12.5" stroke-linejoin="round" stroke-dasharray="40.19 8.85 20.35 8.85" stroke-dashoffset="73.82"/>
<polyline points="1516.8,2125.1 1518.8,2124.9 1520.8,2124.6 1522.8,2124.4 1524.8,2124.2 1526.8,2124.0 1528.8,2123.7 1530.7,2123.5 1532.7,2123.3 1534.7,2123.1 1536.7,2122.8 1538.7,2122.6 1540.7,2122.4 1542.7,2122.2 1544.7,2122.0 1546.7,2121.8 1548.6,2121.5 1550.6,2121.3 1552.6,2121.1 1554.6,2120.9 1556.6,2120.7 1558.6,2120.5 1560.6,2120.2 1562.6,2120.0 1564.5,2119.8 1566.5,2119.6 1568.5,2119.3 1570.5,2119.1 1572.5,2118.8 1574.5,2118.6 1576.5,2118.3 1578.4,2118.1 1580.4,2117.8 1582.4,2117.5 1584.4,2117.2 1586.4,2117.0 1588.3,2116.7 1590.3,2116.4 1592.3,2116.1 1593.0,2115.9" fill="none" stroke="#00ff00" stroke-width="12.5" stroke-linejoin="round" stroke-dasharray="39.55 8.71 20.03 8.71" stroke-dashoffset="72.64"/>
<polyline points="1593.3,2115.9 1595.3,2115.6 1597.2,2115.3 1599.2,2115.0 1601.2,2114.7 1603.2,2114.4 1605.1,2114.1 1607.1,2113.8 1609.1,2113.5 1611.1,2113.2 1613.1,2112.9 1615.0,2112.6 1617.0,2112.4 1619.0,2112.1 1621.0,2111.9 1623.0,2111.6 1625.0,2111.4 1626.9,2111.2 1628.9,2110.9 1630.9,2110.7 1632.9,2110.5 1634.9,2110.3 1635.6,2110.2" fill="none" stroke="#00ff00" stroke-width="12.5" stroke-linejoin="round" stroke-dasharray="39.55 8.71 20.03 8.71" stroke-dashoffset="72.64"/>
<path d="M181.1 1360.3H1635.6" stroke="#808080" stroke-width="8.0" stroke-dasharray="29.8 28.09" fill="none"/>
<path d="M183.6 2109.5H1635.6" stroke="#808080" stroke-width="8.0" stroke-dasharray="29.8 28.09" fill="none"/>
<rect x="209.5" y="1872.5" width="355" height="196" fill="#fff" stroke="#202020" stroke-width="3.0"/>
<path d="M219.8 1908H330.9" stroke="#0000ff" stroke-width="12.5" stroke-dasharray="10.5 8.95" fill="none"/>
<path d="M219.8 1970H330.9" stroke="#ff0000" stroke-width="12.5" fill="none"/>
<path d="M219.8 2032.3H330.9" stroke="#00ff00" stroke-width="12.5" stroke-dasharray="40 8.2 20.9 8.2" fill="none"/>
<text x="340.3" y="1929.8" font-family='"DejaVu Sans Condensed", "DejaVu Sans", "Liberation Sans", sans-serif' font-size="60.5" fill="#000" stroke="#000" stroke-width="0.6" stroke-linejoin="round">d<tspan x="376.1" y="1939.2" font-family='"DejaVu Sans", "Liberation Sans", sans-serif' font-size="35.8" stroke-width="0.3">3</tspan><tspan x="396.8" y="1925" font-family='"Liberation Sans", Arial, Helvetica, sans-serif' font-size="50.5" stroke-width="1.4">=30nm</tspan></text>
<text x="340.3" y="1990.7" font-family='"DejaVu Sans Condensed", "DejaVu Sans", "Liberation Sans", sans-serif' font-size="60.5" fill="#000" stroke="#000" stroke-width="0.6" stroke-linejoin="round">d<tspan x="376.1" y="2000.1" font-family='"DejaVu Sans", "Liberation Sans", sans-serif' font-size="35.8" stroke-width="0.3">3</tspan><tspan x="396.8" y="1987.3" font-family='"Liberation Sans", Arial, Helvetica, sans-serif' font-size="50.5" stroke-width="1.4">=60nm</tspan></text>
<text x="340.3" y="2052.2" font-family='"DejaVu Sans Condensed", "DejaVu Sans", "Liberation Sans", sans-serif' font-size="60.5" fill="#000" stroke="#000" stroke-width="0.6" stroke-linejoin="round">d<tspan x="376.1" y="2061.6" font-family='"DejaVu Sans", "Liberation Sans", sans-serif' font-size="35.8" stroke-width="0.3">3</tspan><tspan x="396.8" y="2048.8" font-family='"Liberation Sans", Arial, Helvetica, sans-serif' font-size="50.5" stroke-width="1.4">=90nm</tspan></text>
<rect x="1113.9" y="1721.2" width="214.1" height="89.7" fill="#ff9900"/>
<rect x="1149.7" y="1596.3" width="141.5" height="62.2" fill="#ff9900"/>
<path d="M1114.5 1533.5H1326.6V1720.8H1114.5ZM1114.5 1596.5H1326.6M1114.5 1659.6H1326.6M1148.5 1596.5V1659.6M1292.4 1596.5V1659.6" stroke="#66ffff" stroke-width="3.0" fill="none"/>
<path d="M1349.7 1558V1571.8" stroke="#0000ff" stroke-width="2.6" fill="none"/><path d="M1349.7 1534l9 25h-18zM1349.7 1595.8l9 -25h-18z" fill="#0000ff"/>
<path d="M1349.7 1621.2V1635" stroke="#000" stroke-width="2.6" fill="none"/><path d="M1349.7 1597.2l9 25h-18zM1349.7 1659l9 -25h-18z" fill="#000"/>
<path d="M1349.7 1684.4V1698.9" stroke="#000" stroke-width="2.6" fill="none"/><path d="M1349.7 1660.4l9 25h-18zM1349.7 1722.9l9 -25h-18z" fill="#000"/>
<path d="M1349.7 1748.3V1784.3" stroke="#000" stroke-width="2.6" fill="none"/><path d="M1349.7 1724.3l9 25h-18zM1349.7 1808.3l9 -25h-18z" fill="#000"/>
<path d="M1337.6 1533.3H1362.6M1337.6 1596.5H1362.6M1337.6 1659.7H1362.6M1337.6 1723.6H1362.6M1337.6 1809H1362.6" stroke="#000" stroke-width="2.6" fill="none"/>
<text x="1375.4" y="1582.2" font-family='"DejaVu Sans Condensed", "DejaVu Sans", "Liberation Sans", sans-serif' font-size="60.5" fill="#0000ff" stroke="#0000ff" stroke-width="0.6" stroke-linejoin="round">d<tspan x="1411.2" y="1591.6" font-family='"DejaVu Sans", "Liberation Sans", sans-serif' font-size="35.8" stroke-width="0.3">3</tspan></text>
<text x="1375.4" y="1645.3" font-family='"DejaVu Sans Condensed", "DejaVu Sans", "Liberation Sans", sans-serif' font-size="60.5" fill="#000" stroke="#000" stroke-width="0.6" stroke-linejoin="round">d<tspan x="1411.2" y="1654.7" font-family='"DejaVu Sans", "Liberation Sans", sans-serif' font-size="35.8" stroke-width="0.3">2</tspan></text>
<text x="1375.4" y="1707.4" font-family='"DejaVu Sans Condensed", "DejaVu Sans", "Liberation Sans", sans-serif' font-size="60.5" fill="#000" stroke="#000" stroke-width="0.6" stroke-linejoin="round">d<tspan x="1411.2" y="1716.8" font-family='"DejaVu Sans", "Liberation Sans", sans-serif' font-size="35.8" stroke-width="0.3">1</tspan></text>
<text x="1372.6" y="1787.4" font-family='"DejaVu Sans Condensed", "DejaVu Sans", "Liberation Sans", sans-serif' font-size="60.5" fill="#000" stroke="#000" stroke-width="0.6" stroke-linejoin="round">d</text>
<text transform="translate(1526 1345.2) scale(0.915 1)" font-family='"DejaVu Sans Condensed", "DejaVu Sans", "Liberation Sans", sans-serif' font-size="84.5" fill="#000" stroke="#000" stroke-width="1.0" stroke-linejoin="round">(<tspan font-family='"DejaVu Sans", sans-serif' font-size="77.5" dx="1.0" dy="-4.0">b</tspan><tspan dx="-1.2" dy="4.0">)</tspan></text>
<text transform="translate(693 2343.9) scale(1.027 1)" font-family='"Liberation Sans", Arial, Helvetica, sans-serif' font-size="56.5" fill="#262626" stroke="#262626" stroke-width="1.4" stroke-linejoin="round">Wavelength(<tspan font-family='"Liberation Serif", "DejaVu Serif", serif' font-style="italic" font-size="62" stroke-width="0.8" dx="3.0" textLength="33.5" lengthAdjust="spacingAndGlyphs">μ</tspan><tspan dx="-0.8">m)</tspan></text>
<text transform="translate(61 1737.6) rotate(-90) scale(1.06 1)" font-family='"Liberation Sans", Arial, Helvetica, sans-serif' font-size="55" fill="#262626" stroke="#262626" stroke-width="1.4" stroke-linejoin="round" text-anchor="middle">Absorption</text>
</g>
</svg></body></html>
